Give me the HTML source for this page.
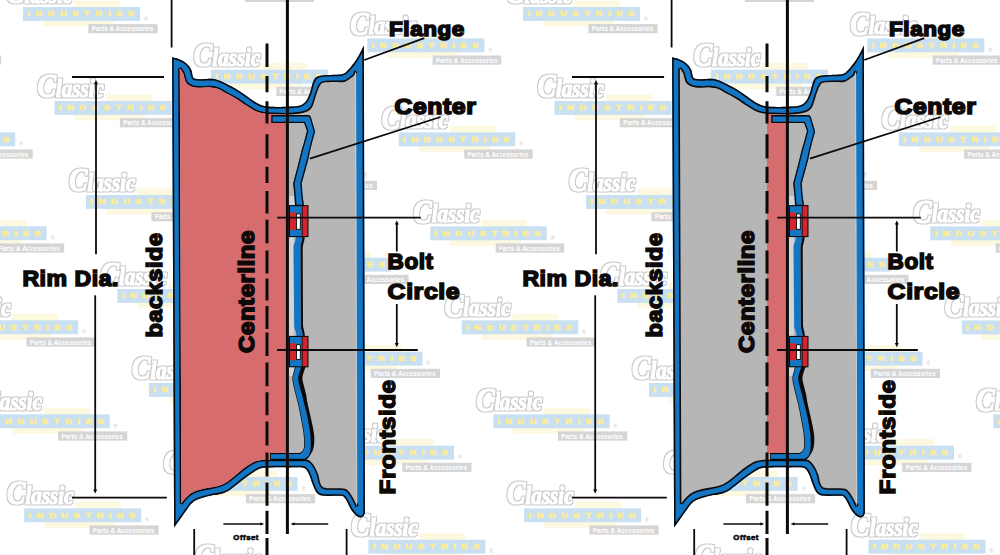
<!DOCTYPE html>
<html lang="en"><head><meta charset="utf-8"><title>Wheel Offset Diagram</title>
<style>html,body{margin:0;padding:0;background:#fff}body{width:1000px;height:555px;overflow:hidden}svg{display:block}text{font-family:"Liberation Sans",sans-serif}text.cl{font-family:"Liberation Serif",serif;font-style:italic}</style></head><body>
<svg width="1000" height="555" viewBox="0 0 1000 555">
<defs><clipPath id="cOut"><path d="M172.1 57.3C173.1 57.6 176.5 58.2 178.5 58.9C180.5 59.6 182.5 60.6 184.2 61.7C185.9 62.9 187.5 64.3 188.7 65.8C189.9 67.3 190.8 68.9 191.5 70.6C192.2 72.3 192.1 74.6 192.7 76C193.3 77.4 193.3 78.3 194.9 78.8C196.5 79.3 198.9 79.2 202 79.2C205.1 79.2 210.4 78.6 213.4 78.9C216.4 79.2 217.2 79.7 219.9 80.8C222.6 81.9 226.6 84 229.6 85.6C232.6 87.2 235.3 88.5 238.1 90.2C240.9 91.9 243.5 93.9 246.2 95.8C248.9 97.7 251.6 99.9 254.3 101.5C257 103.1 259.7 104.7 262.4 105.6C265.1 106.5 266.4 106.6 270.5 106.8C274.6 107 282 107 286.7 106.8C291.4 106.6 295.8 106.6 298.9 105.8C302 105 303.6 104 305.4 102C307.2 100 308.4 97 309.6 94C310.8 91 311.5 86.5 312.4 83.9C313.3 81.3 313.9 79.9 314.9 78.6C315.9 77.3 316.4 76.8 318.5 76.2C320.6 75.6 323.5 75.3 327.4 75C331.3 74.7 338.8 74.8 342 74.2C345.2 73.6 345.4 72.5 346.9 71.3C348.4 70.1 349.5 68.5 350.9 66.9C352.2 65.3 353.6 63.8 355 61.6C356.4 59.5 358.1 56.7 359.6 54C361.1 51.3 363.2 47 363.9 45.6L364.9 512.4C364.7 513 364.4 515.3 363.5 516.1C362.6 516.9 361.2 517.7 359.8 517.4C358.4 517.1 356.5 515.8 355 514.4C353.5 513 352.1 511.1 350.9 509.2C349.7 507.2 348.8 504.7 347.7 502.7C346.6 500.7 345.6 498.5 344.4 497.4C343.2 496.2 343.8 496.1 340.4 495.8C337 495.5 327.8 496.1 324.2 495.8C320.6 495.5 320 495.1 318.5 494.2C317 493.3 316.2 492.1 315.2 490.2C314.1 488.3 313.2 485.5 312.2 483C311.2 480.5 310.4 477.4 309.4 475.1C308.4 472.8 307.4 470.7 306.2 469.4C305 468.1 304.9 467.7 302.2 467.4C299.5 467.1 295.1 467.4 290 467.4C284.9 467.4 276.1 467.3 271.7 467.4C267.3 467.4 265.8 467.4 263.6 467.7C261.5 468 260.8 468 258.8 469C256.8 470 254.1 471.8 251.5 473.5C248.9 475.2 246.1 477.2 243.4 479.2C240.7 481.2 238 483.6 235.3 485.7C232.6 487.8 229.6 490.2 227.2 491.6C224.8 493 223 493.3 220.7 493.9C218.4 494.5 216.1 494.6 213.4 495.1C210.7 495.7 207.3 496.4 204.5 497.2C201.7 498 198.6 498.9 196.4 500C194.2 501.1 193.1 501.9 191.5 503.6C189.9 505.3 188.5 507.5 186.6 510.1C184.7 512.7 182.3 516.1 180.2 519C178.1 521.9 175.1 526.1 174.1 527.5L172.1 57.3Z"/></clipPath><clipPath id="cCav"><path d="M179.8 68.2C180.3 69 182.2 71.3 183 73.1C183.8 74.8 184 77 184.6 78.7C185.2 80.4 185.4 81.9 186.6 83.2C187.8 84.5 189.2 85.7 191.5 86.4C193.8 87.2 197.3 87.5 200.4 87.7C203.5 87.9 207.1 87.2 210.1 87.4C213.1 87.6 215.2 87.8 218.2 88.9C221.2 90.1 224.7 92.5 228 94.3C231.3 96.1 235.1 98 238.1 99.9C241.1 101.8 243.5 103.8 246.2 105.6C248.9 107.3 251.6 109.1 254.3 110.4C257 111.7 259.7 112.7 262.4 113.3C265.1 113.9 266.4 113.9 270.5 114.1C274.6 114.3 282 114.6 286.7 114.5C291.4 114.4 295.4 114.2 298.9 113.7C302.4 113.2 305.6 112.4 307.8 111.2C310.1 110 311.1 108.8 312.4 106.5C313.6 104.2 314.4 100.5 315.3 97.7C316.2 94.9 317.2 91.8 318.1 89.6C319 87.4 319.6 85.8 320.5 84.7C321.4 83.6 321.2 83.1 323.4 82.7C325.6 82.3 330.4 82.2 333.9 82.1C337.4 82 341.7 82.5 344.4 81.9C347.1 81.3 348.5 79.7 350.1 78.6C351.7 77.5 353.2 76.5 354.2 75.2C355.1 73.9 355.5 71.7 355.8 71L357 506.7C356.8 506.2 356.6 505.1 355.8 503.5C355.1 501.9 353.7 499 352.5 497C351.3 495 350 492.7 348.5 491.3C347 489.9 347.2 489 343.6 488.5C340 488 330.5 488.4 327 488.2C323.5 488 323.9 488 322.8 487.1C321.7 486.2 320.9 485 320.2 483C319.5 481 319.2 477.7 318.4 475.1C317.5 472.5 316.3 469.5 315.1 467.4C313.9 465.2 312.5 463.5 311.1 462.2C309.7 460.9 310 460.1 306.5 459.7C303 459.3 296.1 459.7 290 459.7C283.9 459.7 274.8 459.7 270.1 459.7C265.4 459.7 264.4 459.6 262 459.9C259.6 460.2 257.9 460.3 255.5 461.3C253.1 462.3 250.1 464 247.4 465.8C244.7 467.6 242.3 469.5 239.3 471.9C236.3 474.3 232.4 477.9 229.6 480C226.8 482.1 225.2 483.2 222.5 484.4C219.8 485.6 216.4 486.3 213.4 487C210.4 487.7 207.5 487.9 204.5 488.6C201.5 489.3 198.2 490.1 195.6 491.1C193 492.1 191 493.3 189.1 494.7C187.2 496.1 185.5 498.1 184.2 499.6C182.9 501.1 181.9 502.9 181.4 503.6L179.8 68.2Z"/></clipPath><clipPath id="cD0"><path d="M271.3 115.1 L308.3 115.1 Q310.2 115.2 310.9 117.2 L315.1 131.5 L312.2 142 L310.2 150 L308.2 159.7 L301.7 183.2 L302.5 195 L304 206 L295.3 206 L294.4 195 L293.2 183.2 L297.7 166.2 L301.7 150 L304.1 142 L307 130.7 L304.1 123 L271.3 123 Z"/></clipPath><filter id="wo" x="-10%" y="-30%" width="120%" height="160%"><feMorphology in="SourceAlpha" operator="dilate" radius="1.4" result="d"/><feGaussianBlur in="d" stdDeviation="0.35" result="db"/><feFlood flood-color="#cacaca"/><feComposite in2="db" operator="in" result="o"/><feMerge><feMergeNode in="o"/><feMergeNode in="SourceGraphic"/></feMerge></filter></defs>
<rect width="1000" height="555" fill="#fff"/>
<svg x="0" y="0" width="500" height="555" viewBox="0 0 500 555" overflow="hidden">
<g transform="translate(160.5 -52.8)"><rect x="70" y="22" width="46" height="8" fill="#fdf8e0"/><rect x="39" y="41" width="71" height="7" fill="#fdf8e0"/><rect x="18.9" y="28.5" width="117.1" height="13.9" fill="#c9e0f2"/><text class="cl" x="1.8" y="24.6" font-weight="bold" font-size="33.5" textLength="66.5" lengthAdjust="spacingAndGlyphs" fill="#fff" stroke="#fff" stroke-width="1.2" stroke-linejoin="round" filter="url(#wo)">C<tspan font-size="25.5">lassic</tspan></text><text x="23.2" y="37.9" font-size="6.3" font-weight="bold" letter-spacing="4" textLength="112.5" lengthAdjust="spacingAndGlyphs" fill="#fbec98" stroke="#fbec98" stroke-width="0.7">INDUSTRIES</text><text x="139.8" y="42.3" font-size="5.5" fill="#cfcfcf">®</text><rect x="84.3" y="45.6" width="69.2" height="9.2" fill="#d5d5d5"/><text x="87.6" y="52.9" font-size="7.2" font-weight="bold" textLength="61.6" lengthAdjust="spacingAndGlyphs" fill="#fff">Parts &amp; Accessories</text></g>
<g transform="translate(4.1 -21.5)"><rect x="70" y="22" width="46" height="8" fill="#fdf8e0"/><rect x="39" y="41" width="71" height="7" fill="#fdf8e0"/><rect x="18.9" y="28.5" width="117.1" height="13.9" fill="#c9e0f2"/><text class="cl" x="1.8" y="24.6" font-weight="bold" font-size="33.5" textLength="66.5" lengthAdjust="spacingAndGlyphs" fill="#fff" stroke="#fff" stroke-width="1.2" stroke-linejoin="round" filter="url(#wo)">C<tspan font-size="25.5">lassic</tspan></text><text x="23.2" y="37.9" font-size="6.3" font-weight="bold" letter-spacing="4" textLength="112.5" lengthAdjust="spacingAndGlyphs" fill="#fbec98" stroke="#fbec98" stroke-width="0.7">INDUSTRIES</text><text x="139.8" y="42.3" font-size="5.5" fill="#cfcfcf">®</text><rect x="84.3" y="45.6" width="69.2" height="9.2" fill="#d5d5d5"/><text x="87.6" y="52.9" font-size="7.2" font-weight="bold" textLength="61.6" lengthAdjust="spacingAndGlyphs" fill="#fff">Parts &amp; Accessories</text></g>
<g transform="translate(-152.3 9.8)"><rect x="70" y="22" width="46" height="8" fill="#fdf8e0"/><rect x="39" y="41" width="71" height="7" fill="#fdf8e0"/><rect x="18.9" y="28.5" width="117.1" height="13.9" fill="#c9e0f2"/><text class="cl" x="1.8" y="24.6" font-weight="bold" font-size="33.5" textLength="66.5" lengthAdjust="spacingAndGlyphs" fill="#fff" stroke="#fff" stroke-width="1.2" stroke-linejoin="round" filter="url(#wo)">C<tspan font-size="25.5">lassic</tspan></text><text x="23.2" y="37.9" font-size="6.3" font-weight="bold" letter-spacing="4" textLength="112.5" lengthAdjust="spacingAndGlyphs" fill="#fbec98" stroke="#fbec98" stroke-width="0.7">INDUSTRIES</text><text x="139.8" y="42.3" font-size="5.5" fill="#cfcfcf">®</text><rect x="84.3" y="45.6" width="69.2" height="9.2" fill="#d5d5d5"/><text x="87.6" y="52.9" font-size="7.2" font-weight="bold" textLength="61.6" lengthAdjust="spacingAndGlyphs" fill="#fff">Parts &amp; Accessories</text></g>
<g transform="translate(348.4 9.9)"><rect x="70" y="22" width="46" height="8" fill="#fdf8e0"/><rect x="39" y="41" width="71" height="7" fill="#fdf8e0"/><rect x="18.9" y="28.5" width="117.1" height="13.9" fill="#c9e0f2"/><text class="cl" x="1.8" y="24.6" font-weight="bold" font-size="33.5" textLength="66.5" lengthAdjust="spacingAndGlyphs" fill="#fff" stroke="#fff" stroke-width="1.2" stroke-linejoin="round" filter="url(#wo)">C<tspan font-size="25.5">lassic</tspan></text><text x="23.2" y="37.9" font-size="6.3" font-weight="bold" letter-spacing="4" textLength="112.5" lengthAdjust="spacingAndGlyphs" fill="#fbec98" stroke="#fbec98" stroke-width="0.7">INDUSTRIES</text><text x="139.8" y="42.3" font-size="5.5" fill="#cfcfcf">®</text><rect x="84.3" y="45.6" width="69.2" height="9.2" fill="#d5d5d5"/><text x="87.6" y="52.9" font-size="7.2" font-weight="bold" textLength="61.6" lengthAdjust="spacingAndGlyphs" fill="#fff">Parts &amp; Accessories</text></g>
<g transform="translate(192 41.2)"><rect x="70" y="22" width="46" height="8" fill="#fdf8e0"/><rect x="39" y="41" width="71" height="7" fill="#fdf8e0"/><rect x="18.9" y="28.5" width="117.1" height="13.9" fill="#c9e0f2"/><text class="cl" x="1.8" y="24.6" font-weight="bold" font-size="33.5" textLength="66.5" lengthAdjust="spacingAndGlyphs" fill="#fff" stroke="#fff" stroke-width="1.2" stroke-linejoin="round" filter="url(#wo)">C<tspan font-size="25.5">lassic</tspan></text><text x="23.2" y="37.9" font-size="6.3" font-weight="bold" letter-spacing="4" textLength="112.5" lengthAdjust="spacingAndGlyphs" fill="#fbec98" stroke="#fbec98" stroke-width="0.7">INDUSTRIES</text><text x="139.8" y="42.3" font-size="5.5" fill="#cfcfcf">®</text><rect x="84.3" y="45.6" width="69.2" height="9.2" fill="#d5d5d5"/><text x="87.6" y="52.9" font-size="7.2" font-weight="bold" textLength="61.6" lengthAdjust="spacingAndGlyphs" fill="#fff">Parts &amp; Accessories</text></g>
<g transform="translate(35.6 72.5)"><rect x="70" y="22" width="46" height="8" fill="#fdf8e0"/><rect x="39" y="41" width="71" height="7" fill="#fdf8e0"/><rect x="18.9" y="28.5" width="117.1" height="13.9" fill="#c9e0f2"/><text class="cl" x="1.8" y="24.6" font-weight="bold" font-size="33.5" textLength="66.5" lengthAdjust="spacingAndGlyphs" fill="#fff" stroke="#fff" stroke-width="1.2" stroke-linejoin="round" filter="url(#wo)">C<tspan font-size="25.5">lassic</tspan></text><text x="23.2" y="37.9" font-size="6.3" font-weight="bold" letter-spacing="4" textLength="112.5" lengthAdjust="spacingAndGlyphs" fill="#fbec98" stroke="#fbec98" stroke-width="0.7">INDUSTRIES</text><text x="139.8" y="42.3" font-size="5.5" fill="#cfcfcf">®</text><rect x="84.3" y="45.6" width="69.2" height="9.2" fill="#d5d5d5"/><text x="87.6" y="52.9" font-size="7.2" font-weight="bold" textLength="61.6" lengthAdjust="spacingAndGlyphs" fill="#fff">Parts &amp; Accessories</text></g>
<g transform="translate(-120.8 103.8)"><rect x="70" y="22" width="46" height="8" fill="#fdf8e0"/><rect x="39" y="41" width="71" height="7" fill="#fdf8e0"/><rect x="18.9" y="28.5" width="117.1" height="13.9" fill="#c9e0f2"/><text class="cl" x="1.8" y="24.6" font-weight="bold" font-size="33.5" textLength="66.5" lengthAdjust="spacingAndGlyphs" fill="#fff" stroke="#fff" stroke-width="1.2" stroke-linejoin="round" filter="url(#wo)">C<tspan font-size="25.5">lassic</tspan></text><text x="23.2" y="37.9" font-size="6.3" font-weight="bold" letter-spacing="4" textLength="112.5" lengthAdjust="spacingAndGlyphs" fill="#fbec98" stroke="#fbec98" stroke-width="0.7">INDUSTRIES</text><text x="139.8" y="42.3" font-size="5.5" fill="#cfcfcf">®</text><rect x="84.3" y="45.6" width="69.2" height="9.2" fill="#d5d5d5"/><text x="87.6" y="52.9" font-size="7.2" font-weight="bold" textLength="61.6" lengthAdjust="spacingAndGlyphs" fill="#fff">Parts &amp; Accessories</text></g>
<g transform="translate(379.9 103.9)"><rect x="70" y="22" width="46" height="8" fill="#fdf8e0"/><rect x="39" y="41" width="71" height="7" fill="#fdf8e0"/><rect x="18.9" y="28.5" width="117.1" height="13.9" fill="#c9e0f2"/><text class="cl" x="1.8" y="24.6" font-weight="bold" font-size="33.5" textLength="66.5" lengthAdjust="spacingAndGlyphs" fill="#fff" stroke="#fff" stroke-width="1.2" stroke-linejoin="round" filter="url(#wo)">C<tspan font-size="25.5">lassic</tspan></text><text x="23.2" y="37.9" font-size="6.3" font-weight="bold" letter-spacing="4" textLength="112.5" lengthAdjust="spacingAndGlyphs" fill="#fbec98" stroke="#fbec98" stroke-width="0.7">INDUSTRIES</text><text x="139.8" y="42.3" font-size="5.5" fill="#cfcfcf">®</text><rect x="84.3" y="45.6" width="69.2" height="9.2" fill="#d5d5d5"/><text x="87.6" y="52.9" font-size="7.2" font-weight="bold" textLength="61.6" lengthAdjust="spacingAndGlyphs" fill="#fff">Parts &amp; Accessories</text></g>
<g transform="translate(223.5 135.2)"><rect x="70" y="22" width="46" height="8" fill="#fdf8e0"/><rect x="39" y="41" width="71" height="7" fill="#fdf8e0"/><rect x="18.9" y="28.5" width="117.1" height="13.9" fill="#c9e0f2"/><text class="cl" x="1.8" y="24.6" font-weight="bold" font-size="33.5" textLength="66.5" lengthAdjust="spacingAndGlyphs" fill="#fff" stroke="#fff" stroke-width="1.2" stroke-linejoin="round" filter="url(#wo)">C<tspan font-size="25.5">lassic</tspan></text><text x="23.2" y="37.9" font-size="6.3" font-weight="bold" letter-spacing="4" textLength="112.5" lengthAdjust="spacingAndGlyphs" fill="#fbec98" stroke="#fbec98" stroke-width="0.7">INDUSTRIES</text><text x="139.8" y="42.3" font-size="5.5" fill="#cfcfcf">®</text><rect x="84.3" y="45.6" width="69.2" height="9.2" fill="#d5d5d5"/><text x="87.6" y="52.9" font-size="7.2" font-weight="bold" textLength="61.6" lengthAdjust="spacingAndGlyphs" fill="#fff">Parts &amp; Accessories</text></g>
<g transform="translate(67.1 166.5)"><rect x="70" y="22" width="46" height="8" fill="#fdf8e0"/><rect x="39" y="41" width="71" height="7" fill="#fdf8e0"/><rect x="18.9" y="28.5" width="117.1" height="13.9" fill="#c9e0f2"/><text class="cl" x="1.8" y="24.6" font-weight="bold" font-size="33.5" textLength="66.5" lengthAdjust="spacingAndGlyphs" fill="#fff" stroke="#fff" stroke-width="1.2" stroke-linejoin="round" filter="url(#wo)">C<tspan font-size="25.5">lassic</tspan></text><text x="23.2" y="37.9" font-size="6.3" font-weight="bold" letter-spacing="4" textLength="112.5" lengthAdjust="spacingAndGlyphs" fill="#fbec98" stroke="#fbec98" stroke-width="0.7">INDUSTRIES</text><text x="139.8" y="42.3" font-size="5.5" fill="#cfcfcf">®</text><rect x="84.3" y="45.6" width="69.2" height="9.2" fill="#d5d5d5"/><text x="87.6" y="52.9" font-size="7.2" font-weight="bold" textLength="61.6" lengthAdjust="spacingAndGlyphs" fill="#fff">Parts &amp; Accessories</text></g>
<g transform="translate(-89.3 197.8)"><rect x="70" y="22" width="46" height="8" fill="#fdf8e0"/><rect x="39" y="41" width="71" height="7" fill="#fdf8e0"/><rect x="18.9" y="28.5" width="117.1" height="13.9" fill="#c9e0f2"/><text class="cl" x="1.8" y="24.6" font-weight="bold" font-size="33.5" textLength="66.5" lengthAdjust="spacingAndGlyphs" fill="#fff" stroke="#fff" stroke-width="1.2" stroke-linejoin="round" filter="url(#wo)">C<tspan font-size="25.5">lassic</tspan></text><text x="23.2" y="37.9" font-size="6.3" font-weight="bold" letter-spacing="4" textLength="112.5" lengthAdjust="spacingAndGlyphs" fill="#fbec98" stroke="#fbec98" stroke-width="0.7">INDUSTRIES</text><text x="139.8" y="42.3" font-size="5.5" fill="#cfcfcf">®</text><rect x="84.3" y="45.6" width="69.2" height="9.2" fill="#d5d5d5"/><text x="87.6" y="52.9" font-size="7.2" font-weight="bold" textLength="61.6" lengthAdjust="spacingAndGlyphs" fill="#fff">Parts &amp; Accessories</text></g>
<g transform="translate(411.4 197.9)"><rect x="70" y="22" width="46" height="8" fill="#fdf8e0"/><rect x="39" y="41" width="71" height="7" fill="#fdf8e0"/><rect x="18.9" y="28.5" width="117.1" height="13.9" fill="#c9e0f2"/><text class="cl" x="1.8" y="24.6" font-weight="bold" font-size="33.5" textLength="66.5" lengthAdjust="spacingAndGlyphs" fill="#fff" stroke="#fff" stroke-width="1.2" stroke-linejoin="round" filter="url(#wo)">C<tspan font-size="25.5">lassic</tspan></text><text x="23.2" y="37.9" font-size="6.3" font-weight="bold" letter-spacing="4" textLength="112.5" lengthAdjust="spacingAndGlyphs" fill="#fbec98" stroke="#fbec98" stroke-width="0.7">INDUSTRIES</text><text x="139.8" y="42.3" font-size="5.5" fill="#cfcfcf">®</text><rect x="84.3" y="45.6" width="69.2" height="9.2" fill="#d5d5d5"/><text x="87.6" y="52.9" font-size="7.2" font-weight="bold" textLength="61.6" lengthAdjust="spacingAndGlyphs" fill="#fff">Parts &amp; Accessories</text></g>
<g transform="translate(255 229.2)"><rect x="70" y="22" width="46" height="8" fill="#fdf8e0"/><rect x="39" y="41" width="71" height="7" fill="#fdf8e0"/><rect x="18.9" y="28.5" width="117.1" height="13.9" fill="#c9e0f2"/><text class="cl" x="1.8" y="24.6" font-weight="bold" font-size="33.5" textLength="66.5" lengthAdjust="spacingAndGlyphs" fill="#fff" stroke="#fff" stroke-width="1.2" stroke-linejoin="round" filter="url(#wo)">C<tspan font-size="25.5">lassic</tspan></text><text x="23.2" y="37.9" font-size="6.3" font-weight="bold" letter-spacing="4" textLength="112.5" lengthAdjust="spacingAndGlyphs" fill="#fbec98" stroke="#fbec98" stroke-width="0.7">INDUSTRIES</text><text x="139.8" y="42.3" font-size="5.5" fill="#cfcfcf">®</text><rect x="84.3" y="45.6" width="69.2" height="9.2" fill="#d5d5d5"/><text x="87.6" y="52.9" font-size="7.2" font-weight="bold" textLength="61.6" lengthAdjust="spacingAndGlyphs" fill="#fff">Parts &amp; Accessories</text></g>
<g transform="translate(98.6 260.5)"><rect x="70" y="22" width="46" height="8" fill="#fdf8e0"/><rect x="39" y="41" width="71" height="7" fill="#fdf8e0"/><rect x="18.9" y="28.5" width="117.1" height="13.9" fill="#c9e0f2"/><text class="cl" x="1.8" y="24.6" font-weight="bold" font-size="33.5" textLength="66.5" lengthAdjust="spacingAndGlyphs" fill="#fff" stroke="#fff" stroke-width="1.2" stroke-linejoin="round" filter="url(#wo)">C<tspan font-size="25.5">lassic</tspan></text><text x="23.2" y="37.9" font-size="6.3" font-weight="bold" letter-spacing="4" textLength="112.5" lengthAdjust="spacingAndGlyphs" fill="#fbec98" stroke="#fbec98" stroke-width="0.7">INDUSTRIES</text><text x="139.8" y="42.3" font-size="5.5" fill="#cfcfcf">®</text><rect x="84.3" y="45.6" width="69.2" height="9.2" fill="#d5d5d5"/><text x="87.6" y="52.9" font-size="7.2" font-weight="bold" textLength="61.6" lengthAdjust="spacingAndGlyphs" fill="#fff">Parts &amp; Accessories</text></g>
<g transform="translate(-57.8 291.8)"><rect x="70" y="22" width="46" height="8" fill="#fdf8e0"/><rect x="39" y="41" width="71" height="7" fill="#fdf8e0"/><rect x="18.9" y="28.5" width="117.1" height="13.9" fill="#c9e0f2"/><text class="cl" x="1.8" y="24.6" font-weight="bold" font-size="33.5" textLength="66.5" lengthAdjust="spacingAndGlyphs" fill="#fff" stroke="#fff" stroke-width="1.2" stroke-linejoin="round" filter="url(#wo)">C<tspan font-size="25.5">lassic</tspan></text><text x="23.2" y="37.9" font-size="6.3" font-weight="bold" letter-spacing="4" textLength="112.5" lengthAdjust="spacingAndGlyphs" fill="#fbec98" stroke="#fbec98" stroke-width="0.7">INDUSTRIES</text><text x="139.8" y="42.3" font-size="5.5" fill="#cfcfcf">®</text><rect x="84.3" y="45.6" width="69.2" height="9.2" fill="#d5d5d5"/><text x="87.6" y="52.9" font-size="7.2" font-weight="bold" textLength="61.6" lengthAdjust="spacingAndGlyphs" fill="#fff">Parts &amp; Accessories</text></g>
<g transform="translate(442.9 291.9)"><rect x="70" y="22" width="46" height="8" fill="#fdf8e0"/><rect x="39" y="41" width="71" height="7" fill="#fdf8e0"/><rect x="18.9" y="28.5" width="117.1" height="13.9" fill="#c9e0f2"/><text class="cl" x="1.8" y="24.6" font-weight="bold" font-size="33.5" textLength="66.5" lengthAdjust="spacingAndGlyphs" fill="#fff" stroke="#fff" stroke-width="1.2" stroke-linejoin="round" filter="url(#wo)">C<tspan font-size="25.5">lassic</tspan></text><text x="23.2" y="37.9" font-size="6.3" font-weight="bold" letter-spacing="4" textLength="112.5" lengthAdjust="spacingAndGlyphs" fill="#fbec98" stroke="#fbec98" stroke-width="0.7">INDUSTRIES</text><text x="139.8" y="42.3" font-size="5.5" fill="#cfcfcf">®</text><rect x="84.3" y="45.6" width="69.2" height="9.2" fill="#d5d5d5"/><text x="87.6" y="52.9" font-size="7.2" font-weight="bold" textLength="61.6" lengthAdjust="spacingAndGlyphs" fill="#fff">Parts &amp; Accessories</text></g>
<g transform="translate(286.5 323.2)"><rect x="70" y="22" width="46" height="8" fill="#fdf8e0"/><rect x="39" y="41" width="71" height="7" fill="#fdf8e0"/><rect x="18.9" y="28.5" width="117.1" height="13.9" fill="#c9e0f2"/><text class="cl" x="1.8" y="24.6" font-weight="bold" font-size="33.5" textLength="66.5" lengthAdjust="spacingAndGlyphs" fill="#fff" stroke="#fff" stroke-width="1.2" stroke-linejoin="round" filter="url(#wo)">C<tspan font-size="25.5">lassic</tspan></text><text x="23.2" y="37.9" font-size="6.3" font-weight="bold" letter-spacing="4" textLength="112.5" lengthAdjust="spacingAndGlyphs" fill="#fbec98" stroke="#fbec98" stroke-width="0.7">INDUSTRIES</text><text x="139.8" y="42.3" font-size="5.5" fill="#cfcfcf">®</text><rect x="84.3" y="45.6" width="69.2" height="9.2" fill="#d5d5d5"/><text x="87.6" y="52.9" font-size="7.2" font-weight="bold" textLength="61.6" lengthAdjust="spacingAndGlyphs" fill="#fff">Parts &amp; Accessories</text></g>
<g transform="translate(130.1 354.5)"><rect x="70" y="22" width="46" height="8" fill="#fdf8e0"/><rect x="39" y="41" width="71" height="7" fill="#fdf8e0"/><rect x="18.9" y="28.5" width="117.1" height="13.9" fill="#c9e0f2"/><text class="cl" x="1.8" y="24.6" font-weight="bold" font-size="33.5" textLength="66.5" lengthAdjust="spacingAndGlyphs" fill="#fff" stroke="#fff" stroke-width="1.2" stroke-linejoin="round" filter="url(#wo)">C<tspan font-size="25.5">lassic</tspan></text><text x="23.2" y="37.9" font-size="6.3" font-weight="bold" letter-spacing="4" textLength="112.5" lengthAdjust="spacingAndGlyphs" fill="#fbec98" stroke="#fbec98" stroke-width="0.7">INDUSTRIES</text><text x="139.8" y="42.3" font-size="5.5" fill="#cfcfcf">®</text><rect x="84.3" y="45.6" width="69.2" height="9.2" fill="#d5d5d5"/><text x="87.6" y="52.9" font-size="7.2" font-weight="bold" textLength="61.6" lengthAdjust="spacingAndGlyphs" fill="#fff">Parts &amp; Accessories</text></g>
<g transform="translate(-26.3 385.8)"><rect x="70" y="22" width="46" height="8" fill="#fdf8e0"/><rect x="39" y="41" width="71" height="7" fill="#fdf8e0"/><rect x="18.9" y="28.5" width="117.1" height="13.9" fill="#c9e0f2"/><text class="cl" x="1.8" y="24.6" font-weight="bold" font-size="33.5" textLength="66.5" lengthAdjust="spacingAndGlyphs" fill="#fff" stroke="#fff" stroke-width="1.2" stroke-linejoin="round" filter="url(#wo)">C<tspan font-size="25.5">lassic</tspan></text><text x="23.2" y="37.9" font-size="6.3" font-weight="bold" letter-spacing="4" textLength="112.5" lengthAdjust="spacingAndGlyphs" fill="#fbec98" stroke="#fbec98" stroke-width="0.7">INDUSTRIES</text><text x="139.8" y="42.3" font-size="5.5" fill="#cfcfcf">®</text><rect x="84.3" y="45.6" width="69.2" height="9.2" fill="#d5d5d5"/><text x="87.6" y="52.9" font-size="7.2" font-weight="bold" textLength="61.6" lengthAdjust="spacingAndGlyphs" fill="#fff">Parts &amp; Accessories</text></g>
<g transform="translate(474.4 385.9)"><rect x="70" y="22" width="46" height="8" fill="#fdf8e0"/><rect x="39" y="41" width="71" height="7" fill="#fdf8e0"/><rect x="18.9" y="28.5" width="117.1" height="13.9" fill="#c9e0f2"/><text class="cl" x="1.8" y="24.6" font-weight="bold" font-size="33.5" textLength="66.5" lengthAdjust="spacingAndGlyphs" fill="#fff" stroke="#fff" stroke-width="1.2" stroke-linejoin="round" filter="url(#wo)">C<tspan font-size="25.5">lassic</tspan></text><text x="23.2" y="37.9" font-size="6.3" font-weight="bold" letter-spacing="4" textLength="112.5" lengthAdjust="spacingAndGlyphs" fill="#fbec98" stroke="#fbec98" stroke-width="0.7">INDUSTRIES</text><text x="139.8" y="42.3" font-size="5.5" fill="#cfcfcf">®</text><rect x="84.3" y="45.6" width="69.2" height="9.2" fill="#d5d5d5"/><text x="87.6" y="52.9" font-size="7.2" font-weight="bold" textLength="61.6" lengthAdjust="spacingAndGlyphs" fill="#fff">Parts &amp; Accessories</text></g>
<g transform="translate(318 417.2)"><rect x="70" y="22" width="46" height="8" fill="#fdf8e0"/><rect x="39" y="41" width="71" height="7" fill="#fdf8e0"/><rect x="18.9" y="28.5" width="117.1" height="13.9" fill="#c9e0f2"/><text class="cl" x="1.8" y="24.6" font-weight="bold" font-size="33.5" textLength="66.5" lengthAdjust="spacingAndGlyphs" fill="#fff" stroke="#fff" stroke-width="1.2" stroke-linejoin="round" filter="url(#wo)">C<tspan font-size="25.5">lassic</tspan></text><text x="23.2" y="37.9" font-size="6.3" font-weight="bold" letter-spacing="4" textLength="112.5" lengthAdjust="spacingAndGlyphs" fill="#fbec98" stroke="#fbec98" stroke-width="0.7">INDUSTRIES</text><text x="139.8" y="42.3" font-size="5.5" fill="#cfcfcf">®</text><rect x="84.3" y="45.6" width="69.2" height="9.2" fill="#d5d5d5"/><text x="87.6" y="52.9" font-size="7.2" font-weight="bold" textLength="61.6" lengthAdjust="spacingAndGlyphs" fill="#fff">Parts &amp; Accessories</text></g>
<g transform="translate(161.6 448.5)"><rect x="70" y="22" width="46" height="8" fill="#fdf8e0"/><rect x="39" y="41" width="71" height="7" fill="#fdf8e0"/><rect x="18.9" y="28.5" width="117.1" height="13.9" fill="#c9e0f2"/><text class="cl" x="1.8" y="24.6" font-weight="bold" font-size="33.5" textLength="66.5" lengthAdjust="spacingAndGlyphs" fill="#fff" stroke="#fff" stroke-width="1.2" stroke-linejoin="round" filter="url(#wo)">C<tspan font-size="25.5">lassic</tspan></text><text x="23.2" y="37.9" font-size="6.3" font-weight="bold" letter-spacing="4" textLength="112.5" lengthAdjust="spacingAndGlyphs" fill="#fbec98" stroke="#fbec98" stroke-width="0.7">INDUSTRIES</text><text x="139.8" y="42.3" font-size="5.5" fill="#cfcfcf">®</text><rect x="84.3" y="45.6" width="69.2" height="9.2" fill="#d5d5d5"/><text x="87.6" y="52.9" font-size="7.2" font-weight="bold" textLength="61.6" lengthAdjust="spacingAndGlyphs" fill="#fff">Parts &amp; Accessories</text></g>
<g transform="translate(5.2 479.8)"><rect x="70" y="22" width="46" height="8" fill="#fdf8e0"/><rect x="39" y="41" width="71" height="7" fill="#fdf8e0"/><rect x="18.9" y="28.5" width="117.1" height="13.9" fill="#c9e0f2"/><text class="cl" x="1.8" y="24.6" font-weight="bold" font-size="33.5" textLength="66.5" lengthAdjust="spacingAndGlyphs" fill="#fff" stroke="#fff" stroke-width="1.2" stroke-linejoin="round" filter="url(#wo)">C<tspan font-size="25.5">lassic</tspan></text><text x="23.2" y="37.9" font-size="6.3" font-weight="bold" letter-spacing="4" textLength="112.5" lengthAdjust="spacingAndGlyphs" fill="#fbec98" stroke="#fbec98" stroke-width="0.7">INDUSTRIES</text><text x="139.8" y="42.3" font-size="5.5" fill="#cfcfcf">®</text><rect x="84.3" y="45.6" width="69.2" height="9.2" fill="#d5d5d5"/><text x="87.6" y="52.9" font-size="7.2" font-weight="bold" textLength="61.6" lengthAdjust="spacingAndGlyphs" fill="#fff">Parts &amp; Accessories</text></g>
<g transform="translate(-151.2 511.1)"><rect x="70" y="22" width="46" height="8" fill="#fdf8e0"/><rect x="39" y="41" width="71" height="7" fill="#fdf8e0"/><rect x="18.9" y="28.5" width="117.1" height="13.9" fill="#c9e0f2"/><text class="cl" x="1.8" y="24.6" font-weight="bold" font-size="33.5" textLength="66.5" lengthAdjust="spacingAndGlyphs" fill="#fff" stroke="#fff" stroke-width="1.2" stroke-linejoin="round" filter="url(#wo)">C<tspan font-size="25.5">lassic</tspan></text><text x="23.2" y="37.9" font-size="6.3" font-weight="bold" letter-spacing="4" textLength="112.5" lengthAdjust="spacingAndGlyphs" fill="#fbec98" stroke="#fbec98" stroke-width="0.7">INDUSTRIES</text><text x="139.8" y="42.3" font-size="5.5" fill="#cfcfcf">®</text><rect x="84.3" y="45.6" width="69.2" height="9.2" fill="#d5d5d5"/><text x="87.6" y="52.9" font-size="7.2" font-weight="bold" textLength="61.6" lengthAdjust="spacingAndGlyphs" fill="#fff">Parts &amp; Accessories</text></g>
<g transform="translate(349.5 511.2)"><rect x="70" y="22" width="46" height="8" fill="#fdf8e0"/><rect x="39" y="41" width="71" height="7" fill="#fdf8e0"/><rect x="18.9" y="28.5" width="117.1" height="13.9" fill="#c9e0f2"/><text class="cl" x="1.8" y="24.6" font-weight="bold" font-size="33.5" textLength="66.5" lengthAdjust="spacingAndGlyphs" fill="#fff" stroke="#fff" stroke-width="1.2" stroke-linejoin="round" filter="url(#wo)">C<tspan font-size="25.5">lassic</tspan></text><text x="23.2" y="37.9" font-size="6.3" font-weight="bold" letter-spacing="4" textLength="112.5" lengthAdjust="spacingAndGlyphs" fill="#fbec98" stroke="#fbec98" stroke-width="0.7">INDUSTRIES</text><text x="139.8" y="42.3" font-size="5.5" fill="#cfcfcf">®</text><rect x="84.3" y="45.6" width="69.2" height="9.2" fill="#d5d5d5"/><text x="87.6" y="52.9" font-size="7.2" font-weight="bold" textLength="61.6" lengthAdjust="spacingAndGlyphs" fill="#fff">Parts &amp; Accessories</text></g>
<g transform="translate(193.1 542.5)"><rect x="70" y="22" width="46" height="8" fill="#fdf8e0"/><rect x="39" y="41" width="71" height="7" fill="#fdf8e0"/><rect x="18.9" y="28.5" width="117.1" height="13.9" fill="#c9e0f2"/><text class="cl" x="1.8" y="24.6" font-weight="bold" font-size="33.5" textLength="66.5" lengthAdjust="spacingAndGlyphs" fill="#fff" stroke="#fff" stroke-width="1.2" stroke-linejoin="round" filter="url(#wo)">C<tspan font-size="25.5">lassic</tspan></text><text x="23.2" y="37.9" font-size="6.3" font-weight="bold" letter-spacing="4" textLength="112.5" lengthAdjust="spacingAndGlyphs" fill="#fbec98" stroke="#fbec98" stroke-width="0.7">INDUSTRIES</text><text x="139.8" y="42.3" font-size="5.5" fill="#cfcfcf">®</text><rect x="84.3" y="45.6" width="69.2" height="9.2" fill="#d5d5d5"/><text x="87.6" y="52.9" font-size="7.2" font-weight="bold" textLength="61.6" lengthAdjust="spacingAndGlyphs" fill="#fff">Parts &amp; Accessories</text></g>
</svg>
<svg x="500" y="0" width="500" height="555" viewBox="0 0 500 555" overflow="hidden">
<g transform="translate(160.5 -52.8)"><rect x="70" y="22" width="46" height="8" fill="#fdf8e0"/><rect x="39" y="41" width="71" height="7" fill="#fdf8e0"/><rect x="18.9" y="28.5" width="117.1" height="13.9" fill="#c9e0f2"/><text class="cl" x="1.8" y="24.6" font-weight="bold" font-size="33.5" textLength="66.5" lengthAdjust="spacingAndGlyphs" fill="#fff" stroke="#fff" stroke-width="1.2" stroke-linejoin="round" filter="url(#wo)">C<tspan font-size="25.5">lassic</tspan></text><text x="23.2" y="37.9" font-size="6.3" font-weight="bold" letter-spacing="4" textLength="112.5" lengthAdjust="spacingAndGlyphs" fill="#fbec98" stroke="#fbec98" stroke-width="0.7">INDUSTRIES</text><text x="139.8" y="42.3" font-size="5.5" fill="#cfcfcf">®</text><rect x="84.3" y="45.6" width="69.2" height="9.2" fill="#d5d5d5"/><text x="87.6" y="52.9" font-size="7.2" font-weight="bold" textLength="61.6" lengthAdjust="spacingAndGlyphs" fill="#fff">Parts &amp; Accessories</text></g>
<g transform="translate(4.1 -21.5)"><rect x="70" y="22" width="46" height="8" fill="#fdf8e0"/><rect x="39" y="41" width="71" height="7" fill="#fdf8e0"/><rect x="18.9" y="28.5" width="117.1" height="13.9" fill="#c9e0f2"/><text class="cl" x="1.8" y="24.6" font-weight="bold" font-size="33.5" textLength="66.5" lengthAdjust="spacingAndGlyphs" fill="#fff" stroke="#fff" stroke-width="1.2" stroke-linejoin="round" filter="url(#wo)">C<tspan font-size="25.5">lassic</tspan></text><text x="23.2" y="37.9" font-size="6.3" font-weight="bold" letter-spacing="4" textLength="112.5" lengthAdjust="spacingAndGlyphs" fill="#fbec98" stroke="#fbec98" stroke-width="0.7">INDUSTRIES</text><text x="139.8" y="42.3" font-size="5.5" fill="#cfcfcf">®</text><rect x="84.3" y="45.6" width="69.2" height="9.2" fill="#d5d5d5"/><text x="87.6" y="52.9" font-size="7.2" font-weight="bold" textLength="61.6" lengthAdjust="spacingAndGlyphs" fill="#fff">Parts &amp; Accessories</text></g>
<g transform="translate(-152.3 9.8)"><rect x="70" y="22" width="46" height="8" fill="#fdf8e0"/><rect x="39" y="41" width="71" height="7" fill="#fdf8e0"/><rect x="18.9" y="28.5" width="117.1" height="13.9" fill="#c9e0f2"/><text class="cl" x="1.8" y="24.6" font-weight="bold" font-size="33.5" textLength="66.5" lengthAdjust="spacingAndGlyphs" fill="#fff" stroke="#fff" stroke-width="1.2" stroke-linejoin="round" filter="url(#wo)">C<tspan font-size="25.5">lassic</tspan></text><text x="23.2" y="37.9" font-size="6.3" font-weight="bold" letter-spacing="4" textLength="112.5" lengthAdjust="spacingAndGlyphs" fill="#fbec98" stroke="#fbec98" stroke-width="0.7">INDUSTRIES</text><text x="139.8" y="42.3" font-size="5.5" fill="#cfcfcf">®</text><rect x="84.3" y="45.6" width="69.2" height="9.2" fill="#d5d5d5"/><text x="87.6" y="52.9" font-size="7.2" font-weight="bold" textLength="61.6" lengthAdjust="spacingAndGlyphs" fill="#fff">Parts &amp; Accessories</text></g>
<g transform="translate(348.4 9.9)"><rect x="70" y="22" width="46" height="8" fill="#fdf8e0"/><rect x="39" y="41" width="71" height="7" fill="#fdf8e0"/><rect x="18.9" y="28.5" width="117.1" height="13.9" fill="#c9e0f2"/><text class="cl" x="1.8" y="24.6" font-weight="bold" font-size="33.5" textLength="66.5" lengthAdjust="spacingAndGlyphs" fill="#fff" stroke="#fff" stroke-width="1.2" stroke-linejoin="round" filter="url(#wo)">C<tspan font-size="25.5">lassic</tspan></text><text x="23.2" y="37.9" font-size="6.3" font-weight="bold" letter-spacing="4" textLength="112.5" lengthAdjust="spacingAndGlyphs" fill="#fbec98" stroke="#fbec98" stroke-width="0.7">INDUSTRIES</text><text x="139.8" y="42.3" font-size="5.5" fill="#cfcfcf">®</text><rect x="84.3" y="45.6" width="69.2" height="9.2" fill="#d5d5d5"/><text x="87.6" y="52.9" font-size="7.2" font-weight="bold" textLength="61.6" lengthAdjust="spacingAndGlyphs" fill="#fff">Parts &amp; Accessories</text></g>
<g transform="translate(192 41.2)"><rect x="70" y="22" width="46" height="8" fill="#fdf8e0"/><rect x="39" y="41" width="71" height="7" fill="#fdf8e0"/><rect x="18.9" y="28.5" width="117.1" height="13.9" fill="#c9e0f2"/><text class="cl" x="1.8" y="24.6" font-weight="bold" font-size="33.5" textLength="66.5" lengthAdjust="spacingAndGlyphs" fill="#fff" stroke="#fff" stroke-width="1.2" stroke-linejoin="round" filter="url(#wo)">C<tspan font-size="25.5">lassic</tspan></text><text x="23.2" y="37.9" font-size="6.3" font-weight="bold" letter-spacing="4" textLength="112.5" lengthAdjust="spacingAndGlyphs" fill="#fbec98" stroke="#fbec98" stroke-width="0.7">INDUSTRIES</text><text x="139.8" y="42.3" font-size="5.5" fill="#cfcfcf">®</text><rect x="84.3" y="45.6" width="69.2" height="9.2" fill="#d5d5d5"/><text x="87.6" y="52.9" font-size="7.2" font-weight="bold" textLength="61.6" lengthAdjust="spacingAndGlyphs" fill="#fff">Parts &amp; Accessories</text></g>
<g transform="translate(35.6 72.5)"><rect x="70" y="22" width="46" height="8" fill="#fdf8e0"/><rect x="39" y="41" width="71" height="7" fill="#fdf8e0"/><rect x="18.9" y="28.5" width="117.1" height="13.9" fill="#c9e0f2"/><text class="cl" x="1.8" y="24.6" font-weight="bold" font-size="33.5" textLength="66.5" lengthAdjust="spacingAndGlyphs" fill="#fff" stroke="#fff" stroke-width="1.2" stroke-linejoin="round" filter="url(#wo)">C<tspan font-size="25.5">lassic</tspan></text><text x="23.2" y="37.9" font-size="6.3" font-weight="bold" letter-spacing="4" textLength="112.5" lengthAdjust="spacingAndGlyphs" fill="#fbec98" stroke="#fbec98" stroke-width="0.7">INDUSTRIES</text><text x="139.8" y="42.3" font-size="5.5" fill="#cfcfcf">®</text><rect x="84.3" y="45.6" width="69.2" height="9.2" fill="#d5d5d5"/><text x="87.6" y="52.9" font-size="7.2" font-weight="bold" textLength="61.6" lengthAdjust="spacingAndGlyphs" fill="#fff">Parts &amp; Accessories</text></g>
<g transform="translate(-120.8 103.8)"><rect x="70" y="22" width="46" height="8" fill="#fdf8e0"/><rect x="39" y="41" width="71" height="7" fill="#fdf8e0"/><rect x="18.9" y="28.5" width="117.1" height="13.9" fill="#c9e0f2"/><text class="cl" x="1.8" y="24.6" font-weight="bold" font-size="33.5" textLength="66.5" lengthAdjust="spacingAndGlyphs" fill="#fff" stroke="#fff" stroke-width="1.2" stroke-linejoin="round" filter="url(#wo)">C<tspan font-size="25.5">lassic</tspan></text><text x="23.2" y="37.9" font-size="6.3" font-weight="bold" letter-spacing="4" textLength="112.5" lengthAdjust="spacingAndGlyphs" fill="#fbec98" stroke="#fbec98" stroke-width="0.7">INDUSTRIES</text><text x="139.8" y="42.3" font-size="5.5" fill="#cfcfcf">®</text><rect x="84.3" y="45.6" width="69.2" height="9.2" fill="#d5d5d5"/><text x="87.6" y="52.9" font-size="7.2" font-weight="bold" textLength="61.6" lengthAdjust="spacingAndGlyphs" fill="#fff">Parts &amp; Accessories</text></g>
<g transform="translate(379.9 103.9)"><rect x="70" y="22" width="46" height="8" fill="#fdf8e0"/><rect x="39" y="41" width="71" height="7" fill="#fdf8e0"/><rect x="18.9" y="28.5" width="117.1" height="13.9" fill="#c9e0f2"/><text class="cl" x="1.8" y="24.6" font-weight="bold" font-size="33.5" textLength="66.5" lengthAdjust="spacingAndGlyphs" fill="#fff" stroke="#fff" stroke-width="1.2" stroke-linejoin="round" filter="url(#wo)">C<tspan font-size="25.5">lassic</tspan></text><text x="23.2" y="37.9" font-size="6.3" font-weight="bold" letter-spacing="4" textLength="112.5" lengthAdjust="spacingAndGlyphs" fill="#fbec98" stroke="#fbec98" stroke-width="0.7">INDUSTRIES</text><text x="139.8" y="42.3" font-size="5.5" fill="#cfcfcf">®</text><rect x="84.3" y="45.6" width="69.2" height="9.2" fill="#d5d5d5"/><text x="87.6" y="52.9" font-size="7.2" font-weight="bold" textLength="61.6" lengthAdjust="spacingAndGlyphs" fill="#fff">Parts &amp; Accessories</text></g>
<g transform="translate(223.5 135.2)"><rect x="70" y="22" width="46" height="8" fill="#fdf8e0"/><rect x="39" y="41" width="71" height="7" fill="#fdf8e0"/><rect x="18.9" y="28.5" width="117.1" height="13.9" fill="#c9e0f2"/><text class="cl" x="1.8" y="24.6" font-weight="bold" font-size="33.5" textLength="66.5" lengthAdjust="spacingAndGlyphs" fill="#fff" stroke="#fff" stroke-width="1.2" stroke-linejoin="round" filter="url(#wo)">C<tspan font-size="25.5">lassic</tspan></text><text x="23.2" y="37.9" font-size="6.3" font-weight="bold" letter-spacing="4" textLength="112.5" lengthAdjust="spacingAndGlyphs" fill="#fbec98" stroke="#fbec98" stroke-width="0.7">INDUSTRIES</text><text x="139.8" y="42.3" font-size="5.5" fill="#cfcfcf">®</text><rect x="84.3" y="45.6" width="69.2" height="9.2" fill="#d5d5d5"/><text x="87.6" y="52.9" font-size="7.2" font-weight="bold" textLength="61.6" lengthAdjust="spacingAndGlyphs" fill="#fff">Parts &amp; Accessories</text></g>
<g transform="translate(67.1 166.5)"><rect x="70" y="22" width="46" height="8" fill="#fdf8e0"/><rect x="39" y="41" width="71" height="7" fill="#fdf8e0"/><rect x="18.9" y="28.5" width="117.1" height="13.9" fill="#c9e0f2"/><text class="cl" x="1.8" y="24.6" font-weight="bold" font-size="33.5" textLength="66.5" lengthAdjust="spacingAndGlyphs" fill="#fff" stroke="#fff" stroke-width="1.2" stroke-linejoin="round" filter="url(#wo)">C<tspan font-size="25.5">lassic</tspan></text><text x="23.2" y="37.9" font-size="6.3" font-weight="bold" letter-spacing="4" textLength="112.5" lengthAdjust="spacingAndGlyphs" fill="#fbec98" stroke="#fbec98" stroke-width="0.7">INDUSTRIES</text><text x="139.8" y="42.3" font-size="5.5" fill="#cfcfcf">®</text><rect x="84.3" y="45.6" width="69.2" height="9.2" fill="#d5d5d5"/><text x="87.6" y="52.9" font-size="7.2" font-weight="bold" textLength="61.6" lengthAdjust="spacingAndGlyphs" fill="#fff">Parts &amp; Accessories</text></g>
<g transform="translate(-89.3 197.8)"><rect x="70" y="22" width="46" height="8" fill="#fdf8e0"/><rect x="39" y="41" width="71" height="7" fill="#fdf8e0"/><rect x="18.9" y="28.5" width="117.1" height="13.9" fill="#c9e0f2"/><text class="cl" x="1.8" y="24.6" font-weight="bold" font-size="33.5" textLength="66.5" lengthAdjust="spacingAndGlyphs" fill="#fff" stroke="#fff" stroke-width="1.2" stroke-linejoin="round" filter="url(#wo)">C<tspan font-size="25.5">lassic</tspan></text><text x="23.2" y="37.9" font-size="6.3" font-weight="bold" letter-spacing="4" textLength="112.5" lengthAdjust="spacingAndGlyphs" fill="#fbec98" stroke="#fbec98" stroke-width="0.7">INDUSTRIES</text><text x="139.8" y="42.3" font-size="5.5" fill="#cfcfcf">®</text><rect x="84.3" y="45.6" width="69.2" height="9.2" fill="#d5d5d5"/><text x="87.6" y="52.9" font-size="7.2" font-weight="bold" textLength="61.6" lengthAdjust="spacingAndGlyphs" fill="#fff">Parts &amp; Accessories</text></g>
<g transform="translate(411.4 197.9)"><rect x="70" y="22" width="46" height="8" fill="#fdf8e0"/><rect x="39" y="41" width="71" height="7" fill="#fdf8e0"/><rect x="18.9" y="28.5" width="117.1" height="13.9" fill="#c9e0f2"/><text class="cl" x="1.8" y="24.6" font-weight="bold" font-size="33.5" textLength="66.5" lengthAdjust="spacingAndGlyphs" fill="#fff" stroke="#fff" stroke-width="1.2" stroke-linejoin="round" filter="url(#wo)">C<tspan font-size="25.5">lassic</tspan></text><text x="23.2" y="37.9" font-size="6.3" font-weight="bold" letter-spacing="4" textLength="112.5" lengthAdjust="spacingAndGlyphs" fill="#fbec98" stroke="#fbec98" stroke-width="0.7">INDUSTRIES</text><text x="139.8" y="42.3" font-size="5.5" fill="#cfcfcf">®</text><rect x="84.3" y="45.6" width="69.2" height="9.2" fill="#d5d5d5"/><text x="87.6" y="52.9" font-size="7.2" font-weight="bold" textLength="61.6" lengthAdjust="spacingAndGlyphs" fill="#fff">Parts &amp; Accessories</text></g>
<g transform="translate(255 229.2)"><rect x="70" y="22" width="46" height="8" fill="#fdf8e0"/><rect x="39" y="41" width="71" height="7" fill="#fdf8e0"/><rect x="18.9" y="28.5" width="117.1" height="13.9" fill="#c9e0f2"/><text class="cl" x="1.8" y="24.6" font-weight="bold" font-size="33.5" textLength="66.5" lengthAdjust="spacingAndGlyphs" fill="#fff" stroke="#fff" stroke-width="1.2" stroke-linejoin="round" filter="url(#wo)">C<tspan font-size="25.5">lassic</tspan></text><text x="23.2" y="37.9" font-size="6.3" font-weight="bold" letter-spacing="4" textLength="112.5" lengthAdjust="spacingAndGlyphs" fill="#fbec98" stroke="#fbec98" stroke-width="0.7">INDUSTRIES</text><text x="139.8" y="42.3" font-size="5.5" fill="#cfcfcf">®</text><rect x="84.3" y="45.6" width="69.2" height="9.2" fill="#d5d5d5"/><text x="87.6" y="52.9" font-size="7.2" font-weight="bold" textLength="61.6" lengthAdjust="spacingAndGlyphs" fill="#fff">Parts &amp; Accessories</text></g>
<g transform="translate(98.6 260.5)"><rect x="70" y="22" width="46" height="8" fill="#fdf8e0"/><rect x="39" y="41" width="71" height="7" fill="#fdf8e0"/><rect x="18.9" y="28.5" width="117.1" height="13.9" fill="#c9e0f2"/><text class="cl" x="1.8" y="24.6" font-weight="bold" font-size="33.5" textLength="66.5" lengthAdjust="spacingAndGlyphs" fill="#fff" stroke="#fff" stroke-width="1.2" stroke-linejoin="round" filter="url(#wo)">C<tspan font-size="25.5">lassic</tspan></text><text x="23.2" y="37.9" font-size="6.3" font-weight="bold" letter-spacing="4" textLength="112.5" lengthAdjust="spacingAndGlyphs" fill="#fbec98" stroke="#fbec98" stroke-width="0.7">INDUSTRIES</text><text x="139.8" y="42.3" font-size="5.5" fill="#cfcfcf">®</text><rect x="84.3" y="45.6" width="69.2" height="9.2" fill="#d5d5d5"/><text x="87.6" y="52.9" font-size="7.2" font-weight="bold" textLength="61.6" lengthAdjust="spacingAndGlyphs" fill="#fff">Parts &amp; Accessories</text></g>
<g transform="translate(-57.8 291.8)"><rect x="70" y="22" width="46" height="8" fill="#fdf8e0"/><rect x="39" y="41" width="71" height="7" fill="#fdf8e0"/><rect x="18.9" y="28.5" width="117.1" height="13.9" fill="#c9e0f2"/><text class="cl" x="1.8" y="24.6" font-weight="bold" font-size="33.5" textLength="66.5" lengthAdjust="spacingAndGlyphs" fill="#fff" stroke="#fff" stroke-width="1.2" stroke-linejoin="round" filter="url(#wo)">C<tspan font-size="25.5">lassic</tspan></text><text x="23.2" y="37.9" font-size="6.3" font-weight="bold" letter-spacing="4" textLength="112.5" lengthAdjust="spacingAndGlyphs" fill="#fbec98" stroke="#fbec98" stroke-width="0.7">INDUSTRIES</text><text x="139.8" y="42.3" font-size="5.5" fill="#cfcfcf">®</text><rect x="84.3" y="45.6" width="69.2" height="9.2" fill="#d5d5d5"/><text x="87.6" y="52.9" font-size="7.2" font-weight="bold" textLength="61.6" lengthAdjust="spacingAndGlyphs" fill="#fff">Parts &amp; Accessories</text></g>
<g transform="translate(442.9 291.9)"><rect x="70" y="22" width="46" height="8" fill="#fdf8e0"/><rect x="39" y="41" width="71" height="7" fill="#fdf8e0"/><rect x="18.9" y="28.5" width="117.1" height="13.9" fill="#c9e0f2"/><text class="cl" x="1.8" y="24.6" font-weight="bold" font-size="33.5" textLength="66.5" lengthAdjust="spacingAndGlyphs" fill="#fff" stroke="#fff" stroke-width="1.2" stroke-linejoin="round" filter="url(#wo)">C<tspan font-size="25.5">lassic</tspan></text><text x="23.2" y="37.9" font-size="6.3" font-weight="bold" letter-spacing="4" textLength="112.5" lengthAdjust="spacingAndGlyphs" fill="#fbec98" stroke="#fbec98" stroke-width="0.7">INDUSTRIES</text><text x="139.8" y="42.3" font-size="5.5" fill="#cfcfcf">®</text><rect x="84.3" y="45.6" width="69.2" height="9.2" fill="#d5d5d5"/><text x="87.6" y="52.9" font-size="7.2" font-weight="bold" textLength="61.6" lengthAdjust="spacingAndGlyphs" fill="#fff">Parts &amp; Accessories</text></g>
<g transform="translate(286.5 323.2)"><rect x="70" y="22" width="46" height="8" fill="#fdf8e0"/><rect x="39" y="41" width="71" height="7" fill="#fdf8e0"/><rect x="18.9" y="28.5" width="117.1" height="13.9" fill="#c9e0f2"/><text class="cl" x="1.8" y="24.6" font-weight="bold" font-size="33.5" textLength="66.5" lengthAdjust="spacingAndGlyphs" fill="#fff" stroke="#fff" stroke-width="1.2" stroke-linejoin="round" filter="url(#wo)">C<tspan font-size="25.5">lassic</tspan></text><text x="23.2" y="37.9" font-size="6.3" font-weight="bold" letter-spacing="4" textLength="112.5" lengthAdjust="spacingAndGlyphs" fill="#fbec98" stroke="#fbec98" stroke-width="0.7">INDUSTRIES</text><text x="139.8" y="42.3" font-size="5.5" fill="#cfcfcf">®</text><rect x="84.3" y="45.6" width="69.2" height="9.2" fill="#d5d5d5"/><text x="87.6" y="52.9" font-size="7.2" font-weight="bold" textLength="61.6" lengthAdjust="spacingAndGlyphs" fill="#fff">Parts &amp; Accessories</text></g>
<g transform="translate(130.1 354.5)"><rect x="70" y="22" width="46" height="8" fill="#fdf8e0"/><rect x="39" y="41" width="71" height="7" fill="#fdf8e0"/><rect x="18.9" y="28.5" width="117.1" height="13.9" fill="#c9e0f2"/><text class="cl" x="1.8" y="24.6" font-weight="bold" font-size="33.5" textLength="66.5" lengthAdjust="spacingAndGlyphs" fill="#fff" stroke="#fff" stroke-width="1.2" stroke-linejoin="round" filter="url(#wo)">C<tspan font-size="25.5">lassic</tspan></text><text x="23.2" y="37.9" font-size="6.3" font-weight="bold" letter-spacing="4" textLength="112.5" lengthAdjust="spacingAndGlyphs" fill="#fbec98" stroke="#fbec98" stroke-width="0.7">INDUSTRIES</text><text x="139.8" y="42.3" font-size="5.5" fill="#cfcfcf">®</text><rect x="84.3" y="45.6" width="69.2" height="9.2" fill="#d5d5d5"/><text x="87.6" y="52.9" font-size="7.2" font-weight="bold" textLength="61.6" lengthAdjust="spacingAndGlyphs" fill="#fff">Parts &amp; Accessories</text></g>
<g transform="translate(-26.3 385.8)"><rect x="70" y="22" width="46" height="8" fill="#fdf8e0"/><rect x="39" y="41" width="71" height="7" fill="#fdf8e0"/><rect x="18.9" y="28.5" width="117.1" height="13.9" fill="#c9e0f2"/><text class="cl" x="1.8" y="24.6" font-weight="bold" font-size="33.5" textLength="66.5" lengthAdjust="spacingAndGlyphs" fill="#fff" stroke="#fff" stroke-width="1.2" stroke-linejoin="round" filter="url(#wo)">C<tspan font-size="25.5">lassic</tspan></text><text x="23.2" y="37.9" font-size="6.3" font-weight="bold" letter-spacing="4" textLength="112.5" lengthAdjust="spacingAndGlyphs" fill="#fbec98" stroke="#fbec98" stroke-width="0.7">INDUSTRIES</text><text x="139.8" y="42.3" font-size="5.5" fill="#cfcfcf">®</text><rect x="84.3" y="45.6" width="69.2" height="9.2" fill="#d5d5d5"/><text x="87.6" y="52.9" font-size="7.2" font-weight="bold" textLength="61.6" lengthAdjust="spacingAndGlyphs" fill="#fff">Parts &amp; Accessories</text></g>
<g transform="translate(474.4 385.9)"><rect x="70" y="22" width="46" height="8" fill="#fdf8e0"/><rect x="39" y="41" width="71" height="7" fill="#fdf8e0"/><rect x="18.9" y="28.5" width="117.1" height="13.9" fill="#c9e0f2"/><text class="cl" x="1.8" y="24.6" font-weight="bold" font-size="33.5" textLength="66.5" lengthAdjust="spacingAndGlyphs" fill="#fff" stroke="#fff" stroke-width="1.2" stroke-linejoin="round" filter="url(#wo)">C<tspan font-size="25.5">lassic</tspan></text><text x="23.2" y="37.9" font-size="6.3" font-weight="bold" letter-spacing="4" textLength="112.5" lengthAdjust="spacingAndGlyphs" fill="#fbec98" stroke="#fbec98" stroke-width="0.7">INDUSTRIES</text><text x="139.8" y="42.3" font-size="5.5" fill="#cfcfcf">®</text><rect x="84.3" y="45.6" width="69.2" height="9.2" fill="#d5d5d5"/><text x="87.6" y="52.9" font-size="7.2" font-weight="bold" textLength="61.6" lengthAdjust="spacingAndGlyphs" fill="#fff">Parts &amp; Accessories</text></g>
<g transform="translate(318 417.2)"><rect x="70" y="22" width="46" height="8" fill="#fdf8e0"/><rect x="39" y="41" width="71" height="7" fill="#fdf8e0"/><rect x="18.9" y="28.5" width="117.1" height="13.9" fill="#c9e0f2"/><text class="cl" x="1.8" y="24.6" font-weight="bold" font-size="33.5" textLength="66.5" lengthAdjust="spacingAndGlyphs" fill="#fff" stroke="#fff" stroke-width="1.2" stroke-linejoin="round" filter="url(#wo)">C<tspan font-size="25.5">lassic</tspan></text><text x="23.2" y="37.9" font-size="6.3" font-weight="bold" letter-spacing="4" textLength="112.5" lengthAdjust="spacingAndGlyphs" fill="#fbec98" stroke="#fbec98" stroke-width="0.7">INDUSTRIES</text><text x="139.8" y="42.3" font-size="5.5" fill="#cfcfcf">®</text><rect x="84.3" y="45.6" width="69.2" height="9.2" fill="#d5d5d5"/><text x="87.6" y="52.9" font-size="7.2" font-weight="bold" textLength="61.6" lengthAdjust="spacingAndGlyphs" fill="#fff">Parts &amp; Accessories</text></g>
<g transform="translate(161.6 448.5)"><rect x="70" y="22" width="46" height="8" fill="#fdf8e0"/><rect x="39" y="41" width="71" height="7" fill="#fdf8e0"/><rect x="18.9" y="28.5" width="117.1" height="13.9" fill="#c9e0f2"/><text class="cl" x="1.8" y="24.6" font-weight="bold" font-size="33.5" textLength="66.5" lengthAdjust="spacingAndGlyphs" fill="#fff" stroke="#fff" stroke-width="1.2" stroke-linejoin="round" filter="url(#wo)">C<tspan font-size="25.5">lassic</tspan></text><text x="23.2" y="37.9" font-size="6.3" font-weight="bold" letter-spacing="4" textLength="112.5" lengthAdjust="spacingAndGlyphs" fill="#fbec98" stroke="#fbec98" stroke-width="0.7">INDUSTRIES</text><text x="139.8" y="42.3" font-size="5.5" fill="#cfcfcf">®</text><rect x="84.3" y="45.6" width="69.2" height="9.2" fill="#d5d5d5"/><text x="87.6" y="52.9" font-size="7.2" font-weight="bold" textLength="61.6" lengthAdjust="spacingAndGlyphs" fill="#fff">Parts &amp; Accessories</text></g>
<g transform="translate(5.2 479.8)"><rect x="70" y="22" width="46" height="8" fill="#fdf8e0"/><rect x="39" y="41" width="71" height="7" fill="#fdf8e0"/><rect x="18.9" y="28.5" width="117.1" height="13.9" fill="#c9e0f2"/><text class="cl" x="1.8" y="24.6" font-weight="bold" font-size="33.5" textLength="66.5" lengthAdjust="spacingAndGlyphs" fill="#fff" stroke="#fff" stroke-width="1.2" stroke-linejoin="round" filter="url(#wo)">C<tspan font-size="25.5">lassic</tspan></text><text x="23.2" y="37.9" font-size="6.3" font-weight="bold" letter-spacing="4" textLength="112.5" lengthAdjust="spacingAndGlyphs" fill="#fbec98" stroke="#fbec98" stroke-width="0.7">INDUSTRIES</text><text x="139.8" y="42.3" font-size="5.5" fill="#cfcfcf">®</text><rect x="84.3" y="45.6" width="69.2" height="9.2" fill="#d5d5d5"/><text x="87.6" y="52.9" font-size="7.2" font-weight="bold" textLength="61.6" lengthAdjust="spacingAndGlyphs" fill="#fff">Parts &amp; Accessories</text></g>
<g transform="translate(-151.2 511.1)"><rect x="70" y="22" width="46" height="8" fill="#fdf8e0"/><rect x="39" y="41" width="71" height="7" fill="#fdf8e0"/><rect x="18.9" y="28.5" width="117.1" height="13.9" fill="#c9e0f2"/><text class="cl" x="1.8" y="24.6" font-weight="bold" font-size="33.5" textLength="66.5" lengthAdjust="spacingAndGlyphs" fill="#fff" stroke="#fff" stroke-width="1.2" stroke-linejoin="round" filter="url(#wo)">C<tspan font-size="25.5">lassic</tspan></text><text x="23.2" y="37.9" font-size="6.3" font-weight="bold" letter-spacing="4" textLength="112.5" lengthAdjust="spacingAndGlyphs" fill="#fbec98" stroke="#fbec98" stroke-width="0.7">INDUSTRIES</text><text x="139.8" y="42.3" font-size="5.5" fill="#cfcfcf">®</text><rect x="84.3" y="45.6" width="69.2" height="9.2" fill="#d5d5d5"/><text x="87.6" y="52.9" font-size="7.2" font-weight="bold" textLength="61.6" lengthAdjust="spacingAndGlyphs" fill="#fff">Parts &amp; Accessories</text></g>
<g transform="translate(349.5 511.2)"><rect x="70" y="22" width="46" height="8" fill="#fdf8e0"/><rect x="39" y="41" width="71" height="7" fill="#fdf8e0"/><rect x="18.9" y="28.5" width="117.1" height="13.9" fill="#c9e0f2"/><text class="cl" x="1.8" y="24.6" font-weight="bold" font-size="33.5" textLength="66.5" lengthAdjust="spacingAndGlyphs" fill="#fff" stroke="#fff" stroke-width="1.2" stroke-linejoin="round" filter="url(#wo)">C<tspan font-size="25.5">lassic</tspan></text><text x="23.2" y="37.9" font-size="6.3" font-weight="bold" letter-spacing="4" textLength="112.5" lengthAdjust="spacingAndGlyphs" fill="#fbec98" stroke="#fbec98" stroke-width="0.7">INDUSTRIES</text><text x="139.8" y="42.3" font-size="5.5" fill="#cfcfcf">®</text><rect x="84.3" y="45.6" width="69.2" height="9.2" fill="#d5d5d5"/><text x="87.6" y="52.9" font-size="7.2" font-weight="bold" textLength="61.6" lengthAdjust="spacingAndGlyphs" fill="#fff">Parts &amp; Accessories</text></g>
<g transform="translate(193.1 542.5)"><rect x="70" y="22" width="46" height="8" fill="#fdf8e0"/><rect x="39" y="41" width="71" height="7" fill="#fdf8e0"/><rect x="18.9" y="28.5" width="117.1" height="13.9" fill="#c9e0f2"/><text class="cl" x="1.8" y="24.6" font-weight="bold" font-size="33.5" textLength="66.5" lengthAdjust="spacingAndGlyphs" fill="#fff" stroke="#fff" stroke-width="1.2" stroke-linejoin="round" filter="url(#wo)">C<tspan font-size="25.5">lassic</tspan></text><text x="23.2" y="37.9" font-size="6.3" font-weight="bold" letter-spacing="4" textLength="112.5" lengthAdjust="spacingAndGlyphs" fill="#fbec98" stroke="#fbec98" stroke-width="0.7">INDUSTRIES</text><text x="139.8" y="42.3" font-size="5.5" fill="#cfcfcf">®</text><rect x="84.3" y="45.6" width="69.2" height="9.2" fill="#d5d5d5"/><text x="87.6" y="52.9" font-size="7.2" font-weight="bold" textLength="61.6" lengthAdjust="spacingAndGlyphs" fill="#fff">Parts &amp; Accessories</text></g>
</svg>
<g transform="translate(0 0)">
<path d="M172.1 57.3C173.1 57.6 176.5 58.2 178.5 58.9C180.5 59.6 182.5 60.6 184.2 61.7C185.9 62.9 187.5 64.3 188.7 65.8C189.9 67.3 190.8 68.9 191.5 70.6C192.2 72.3 192.1 74.6 192.7 76C193.3 77.4 193.3 78.3 194.9 78.8C196.5 79.3 198.9 79.2 202 79.2C205.1 79.2 210.4 78.6 213.4 78.9C216.4 79.2 217.2 79.7 219.9 80.8C222.6 81.9 226.6 84 229.6 85.6C232.6 87.2 235.3 88.5 238.1 90.2C240.9 91.9 243.5 93.9 246.2 95.8C248.9 97.7 251.6 99.9 254.3 101.5C257 103.1 259.7 104.7 262.4 105.6C265.1 106.5 266.4 106.6 270.5 106.8C274.6 107 282 107 286.7 106.8C291.4 106.6 295.8 106.6 298.9 105.8C302 105 303.6 104 305.4 102C307.2 100 308.4 97 309.6 94C310.8 91 311.5 86.5 312.4 83.9C313.3 81.3 313.9 79.9 314.9 78.6C315.9 77.3 316.4 76.8 318.5 76.2C320.6 75.6 323.5 75.3 327.4 75C331.3 74.7 338.8 74.8 342 74.2C345.2 73.6 345.4 72.5 346.9 71.3C348.4 70.1 349.5 68.5 350.9 66.9C352.2 65.3 353.6 63.8 355 61.6C356.4 59.5 358.1 56.7 359.6 54C361.1 51.3 363.2 47 363.9 45.6L364.9 512.4C364.7 513 364.4 515.3 363.5 516.1C362.6 516.9 361.2 517.7 359.8 517.4C358.4 517.1 356.5 515.8 355 514.4C353.5 513 352.1 511.1 350.9 509.2C349.7 507.2 348.8 504.7 347.7 502.7C346.6 500.7 345.6 498.5 344.4 497.4C343.2 496.2 343.8 496.1 340.4 495.8C337 495.5 327.8 496.1 324.2 495.8C320.6 495.5 320 495.1 318.5 494.2C317 493.3 316.2 492.1 315.2 490.2C314.1 488.3 313.2 485.5 312.2 483C311.2 480.5 310.4 477.4 309.4 475.1C308.4 472.8 307.4 470.7 306.2 469.4C305 468.1 304.9 467.7 302.2 467.4C299.5 467.1 295.1 467.4 290 467.4C284.9 467.4 276.1 467.3 271.7 467.4C267.3 467.4 265.8 467.4 263.6 467.7C261.5 468 260.8 468 258.8 469C256.8 470 254.1 471.8 251.5 473.5C248.9 475.2 246.1 477.2 243.4 479.2C240.7 481.2 238 483.6 235.3 485.7C232.6 487.8 229.6 490.2 227.2 491.6C224.8 493 223 493.3 220.7 493.9C218.4 494.5 216.1 494.6 213.4 495.1C210.7 495.7 207.3 496.4 204.5 497.2C201.7 498 198.6 498.9 196.4 500C194.2 501.1 193.1 501.9 191.5 503.6C189.9 505.3 188.5 507.5 186.6 510.1C184.7 512.7 182.3 516.1 180.2 519C178.1 521.9 175.1 526.1 174.1 527.5L172.1 57.3Z" fill="#1276c4"/>
<path d="M172.1 57.3C173.1 57.6 176.5 58.2 178.5 58.9C180.5 59.6 182.5 60.6 184.2 61.7C185.9 62.9 187.5 64.3 188.7 65.8C189.9 67.3 190.8 68.9 191.5 70.6C192.2 72.3 192.1 74.6 192.7 76C193.3 77.4 193.3 78.3 194.9 78.8C196.5 79.3 198.9 79.2 202 79.2C205.1 79.2 210.4 78.6 213.4 78.9C216.4 79.2 217.2 79.7 219.9 80.8C222.6 81.9 226.6 84 229.6 85.6C232.6 87.2 235.3 88.5 238.1 90.2C240.9 91.9 243.5 93.9 246.2 95.8C248.9 97.7 251.6 99.9 254.3 101.5C257 103.1 259.7 104.7 262.4 105.6C265.1 106.5 266.4 106.6 270.5 106.8C274.6 107 282 107 286.7 106.8C291.4 106.6 295.8 106.6 298.9 105.8C302 105 303.6 104 305.4 102C307.2 100 308.4 97 309.6 94C310.8 91 311.5 86.5 312.4 83.9C313.3 81.3 313.9 79.9 314.9 78.6C315.9 77.3 316.4 76.8 318.5 76.2C320.6 75.6 323.5 75.3 327.4 75C331.3 74.7 338.8 74.8 342 74.2C345.2 73.6 345.4 72.5 346.9 71.3C348.4 70.1 349.5 68.5 350.9 66.9C352.2 65.3 353.6 63.8 355 61.6C356.4 59.5 358.1 56.7 359.6 54C361.1 51.3 363.2 47 363.9 45.6L364.9 512.4C364.7 513 364.4 515.3 363.5 516.1C362.6 516.9 361.2 517.7 359.8 517.4C358.4 517.1 356.5 515.8 355 514.4C353.5 513 352.1 511.1 350.9 509.2C349.7 507.2 348.8 504.7 347.7 502.7C346.6 500.7 345.6 498.5 344.4 497.4C343.2 496.2 343.8 496.1 340.4 495.8C337 495.5 327.8 496.1 324.2 495.8C320.6 495.5 320 495.1 318.5 494.2C317 493.3 316.2 492.1 315.2 490.2C314.1 488.3 313.2 485.5 312.2 483C311.2 480.5 310.4 477.4 309.4 475.1C308.4 472.8 307.4 470.7 306.2 469.4C305 468.1 304.9 467.7 302.2 467.4C299.5 467.1 295.1 467.4 290 467.4C284.9 467.4 276.1 467.3 271.7 467.4C267.3 467.4 265.8 467.4 263.6 467.7C261.5 468 260.8 468 258.8 469C256.8 470 254.1 471.8 251.5 473.5C248.9 475.2 246.1 477.2 243.4 479.2C240.7 481.2 238 483.6 235.3 485.7C232.6 487.8 229.6 490.2 227.2 491.6C224.8 493 223 493.3 220.7 493.9C218.4 494.5 216.1 494.6 213.4 495.1C210.7 495.7 207.3 496.4 204.5 497.2C201.7 498 198.6 498.9 196.4 500C194.2 501.1 193.1 501.9 191.5 503.6C189.9 505.3 188.5 507.5 186.6 510.1C184.7 512.7 182.3 516.1 180.2 519C178.1 521.9 175.1 526.1 174.1 527.5L172.1 57.3Z" fill="none" stroke="#0d0909" stroke-width="3.2" stroke-linejoin="miter" stroke-miterlimit="10" clip-path="url(#cOut)"/>
<path d="M357 506.7C356.8 506.2 356.6 505.1 355.8 503.5C355.1 501.9 353.7 499 352.5 497C351.3 495 350 492.7 348.5 491.3C347 489.9 347.2 489 343.6 488.5C340 488 330.5 488.4 327 488.2C323.5 488 323.9 488 322.8 487.1C321.7 486.2 320.9 485 320.2 483C319.5 481 319.2 477.7 318.4 475.1C317.5 472.5 316.3 469.5 315.1 467.4C313.9 465.2 312.5 463.5 311.1 462.2C309.7 460.9 310 460.1 306.5 459.7C303 459.3 296.1 459.7 290 459.7C283.9 459.7 274.8 459.7 270.1 459.7C265.4 459.7 264.4 459.6 262 459.9C259.6 460.2 257.9 460.3 255.5 461.3C253.1 462.3 250.1 464 247.4 465.8C244.7 467.6 242.3 469.5 239.3 471.9C236.3 474.3 232.4 477.9 229.6 480C226.8 482.1 225.2 483.2 222.5 484.4C219.8 485.6 216.4 486.3 213.4 487C210.4 487.7 207.5 487.9 204.5 488.6C201.5 489.3 198.2 490.1 195.6 491.1C193 492.1 191 493.3 189.1 494.7C187.2 496.1 185.5 498.1 184.2 499.6C182.9 501.1 181.9 502.9 181.4 503.6L179.8 68.2C180.3 69 182.2 71.3 183 73.1C183.8 74.8 184 77 184.6 78.7C185.2 80.4 185.4 81.9 186.6 83.2C187.8 84.5 189.2 85.7 191.5 86.4C193.8 87.2 197.3 87.5 200.4 87.7C203.5 87.9 207.1 87.2 210.1 87.4C213.1 87.6 215.2 87.8 218.2 88.9C221.2 90.1 224.7 92.5 228 94.3C231.3 96.1 235.1 98 238.1 99.9C241.1 101.8 243.5 103.8 246.2 105.6C248.9 107.3 251.6 109.1 254.3 110.4C257 111.7 259.7 112.7 262.4 113.3C265.1 113.9 266.4 113.9 270.5 114.1C274.6 114.3 282 114.6 286.7 114.5C291.4 114.4 295.4 114.2 298.9 113.7C302.4 113.2 305.6 112.4 307.8 111.2C310.1 110 311.1 108.8 312.4 106.5C313.6 104.2 314.4 100.5 315.3 97.7C316.2 94.9 317.2 91.8 318.1 89.6C319 87.4 319.6 85.8 320.5 84.7C321.4 83.6 321.2 83.1 323.4 82.7C325.6 82.3 330.4 82.2 333.9 82.1C337.4 82 341.7 82.5 344.4 81.9C347.1 81.3 348.5 79.7 350.1 78.6C351.7 77.5 353.2 76.5 354.2 75.2C355.1 73.9 355.5 71.7 355.8 71" fill="none" stroke="#0d0909" stroke-width="3.2" stroke-linejoin="miter" stroke-miterlimit="3"/>
<path d="M179.8 68.2C180.3 69 182.2 71.3 183 73.1C183.8 74.8 184 77 184.6 78.7C185.2 80.4 185.4 81.9 186.6 83.2C187.8 84.5 189.2 85.7 191.5 86.4C193.8 87.2 197.3 87.5 200.4 87.7C203.5 87.9 207.1 87.2 210.1 87.4C213.1 87.6 215.2 87.8 218.2 88.9C221.2 90.1 224.7 92.5 228 94.3C231.3 96.1 235.1 98 238.1 99.9C241.1 101.8 243.5 103.8 246.2 105.6C248.9 107.3 251.6 109.1 254.3 110.4C257 111.7 259.7 112.7 262.4 113.3C265.1 113.9 266.4 113.9 270.5 114.1C274.6 114.3 282 114.6 286.7 114.5C291.4 114.4 295.4 114.2 298.9 113.7C302.4 113.2 305.6 112.4 307.8 111.2C310.1 110 311.1 108.8 312.4 106.5C313.6 104.2 314.4 100.5 315.3 97.7C316.2 94.9 317.2 91.8 318.1 89.6C319 87.4 319.6 85.8 320.5 84.7C321.4 83.6 321.2 83.1 323.4 82.7C325.6 82.3 330.4 82.2 333.9 82.1C337.4 82 341.7 82.5 344.4 81.9C347.1 81.3 348.5 79.7 350.1 78.6C351.7 77.5 353.2 76.5 354.2 75.2C355.1 73.9 355.5 71.7 355.8 71L357 506.7C356.8 506.2 356.6 505.1 355.8 503.5C355.1 501.9 353.7 499 352.5 497C351.3 495 350 492.7 348.5 491.3C347 489.9 347.2 489 343.6 488.5C340 488 330.5 488.4 327 488.2C323.5 488 323.9 488 322.8 487.1C321.7 486.2 320.9 485 320.2 483C319.5 481 319.2 477.7 318.4 475.1C317.5 472.5 316.3 469.5 315.1 467.4C313.9 465.2 312.5 463.5 311.1 462.2C309.7 460.9 310 460.1 306.5 459.7C303 459.3 296.1 459.7 290 459.7C283.9 459.7 274.8 459.7 270.1 459.7C265.4 459.7 264.4 459.6 262 459.9C259.6 460.2 257.9 460.3 255.5 461.3C253.1 462.3 250.1 464 247.4 465.8C244.7 467.6 242.3 469.5 239.3 471.9C236.3 474.3 232.4 477.9 229.6 480C226.8 482.1 225.2 483.2 222.5 484.4C219.8 485.6 216.4 486.3 213.4 487C210.4 487.7 207.5 487.9 204.5 488.6C201.5 489.3 198.2 490.1 195.6 491.1C193 492.1 191 493.3 189.1 494.7C187.2 496.1 185.5 498.1 184.2 499.6C182.9 501.1 181.9 502.9 181.4 503.6L179.8 68.2Z" fill="#b6b6b6"/>
<rect x="170" y="50" width="117.5" height="480" fill="#d66c6e" clip-path="url(#cCav)"/>
<path d="M355.6 73 L356.8 503" fill="none" stroke="#d5d9dc" stroke-width="0.8"/>
<rect x="289" y="237" width="4.8" height="99" fill="#d4d4d6"/>
<rect x="289" y="196" width="5" height="9.5" fill="#d4d4d6"/>
<rect x="289" y="367" width="5" height="9" fill="#d4d4d6"/>
<path d="M271.3 115.1 L308.3 115.1 Q310.2 115.2 310.9 117.2 L315.1 131.5 L312.2 142 L310.2 150 L308.2 159.7 L301.7 183.2 L302.5 195 L304 206 L295.3 206 L294.4 195 L293.2 183.2 L297.7 166.2 L301.7 150 L304.1 142 L307 130.7 L304.1 123 L271.3 123 Z" fill="#1276c4"/>
<path d="M271.3 115.1 L308.3 115.1 Q310.2 115.2 310.9 117.2 L315.1 131.5 L312.2 142 L310.2 150 L308.2 159.7 L301.7 183.2 L302.5 195 L304 206 L295.3 206 L294.4 195 L293.2 183.2 L297.7 166.2 L301.7 150 L304.1 142 L307 130.7 L304.1 123 L271.3 123 Z" fill="none" stroke="#0d0909" stroke-width="2.6" stroke-linejoin="miter" clip-path="url(#cD0)"/>
<path d="M303.3 236.5 C303.3 242 301.3 243 301.3 248 L301.6 325 C301.7 330 303.5 331 303.5 336.5" fill="none" stroke="#0d0909" stroke-width="2.4" transform="translate(0.2 0)"/>
<path d="M295.9 236.5 L302.4 236.5 C302.4 242 300.4 243 300.4 248 L300.7 325 C300.8 330 302.6 331 302.6 336.5 L296.5 336.5 C296.5 331 294.2 330 294.2 325 L293.5 248 C293.5 243 295.9 242 295.9 236.5 Z" fill="#1276c4"/>
<path d="M295.2 366.5C294.9 367.4 294.2 370.1 293.7 372C293.2 373.9 292.4 375.8 292.4 378.2C292.4 380.6 293.1 383.6 293.6 386.3C294.1 389 294.9 391.6 295.6 394.4C296.3 397.2 297 399.4 297.8 403C298.6 406.6 299.6 411.3 300.5 416.2C301.4 421.1 302.8 427.6 303.4 432.4C304 437.2 304.2 442 304.1 445C304 448 303.6 449.3 302.8 450.6C302.1 451.9 300.1 452.6 299.6 453L270.1 453.0L270.1 460.2L306.4 459.9C307 459.2 308.7 457.6 309.8 455.8C310.9 454 312.4 451.7 313.1 449.3C313.9 446.9 314.2 444 314.3 441.2C314.4 438.4 314.4 436.6 313.8 432.4C313.2 428.2 311.6 421.1 310.5 416.2C309.4 411.3 308.2 406.6 307.5 403C306.8 399.4 306.7 397.2 306.1 394.4C305.5 391.6 304.6 389 304 386.3C303.4 383.6 302.4 380.6 302.4 378.2C302.4 375.8 303.2 373.9 303.8 372C304.4 370.1 305.4 367.4 305.7 366.5Z" fill="#0d0909"/>
<path d="M295.9 366.5C295.6 367.4 294.9 370.1 294.4 372C293.9 373.9 293.1 375.8 293.1 378.2C293.1 380.6 293.8 383.6 294.3 386.3C294.8 389 295.6 391.6 296.3 394.4C297 397.2 297.7 399.4 298.5 403C299.3 406.6 300.3 411.3 301.2 416.2C302.1 421.1 303.5 427.6 304.1 432.4C304.7 437.2 304.9 442 304.8 445C304.7 448 304.3 449.1 303.5 450.6C302.7 452.1 300.6 453.4 300 454L270.9 454.2L270.9 458.7L305 458.8C305.7 458.2 308.1 456.6 309 455C309.9 453.4 310.2 451.3 310.5 449C310.8 446.7 310.8 443.8 310.7 441C310.6 438.2 310.7 436.5 310.1 432.4C309.5 428.3 308.3 421.1 307.3 416.2C306.3 411.3 304.9 406.6 304 403C303.1 399.4 302.7 397.2 302 394.4C301.3 391.6 300.2 389 299.6 386.3C299 383.6 298.2 380.6 298.2 378.2C298.2 375.8 299 373.9 299.6 372C300.2 370.1 301.3 367.4 301.6 366.5Z" fill="#1276c4"/>
<rect x="289" y="205.1" width="19.5" height="32" fill="#0d0909"/><rect x="290" y="206.2" width="11.8" height="29.8" fill="#1276c4"/><rect x="302.6" y="206.2" width="4.9" height="29.8" fill="#d4242e"/><rect x="290" y="212.4" width="6.2" height="17.7" fill="#d4242e"/><rect x="296.6" y="213.9" width="3.7" height="15.4" fill="#fff" stroke="#0d0909" stroke-width="0.9"/>
<rect x="289" y="335.9" width="19.5" height="31.4" fill="#0d0909"/><rect x="290" y="337" width="11.8" height="29.2" fill="#1276c4"/><rect x="302.6" y="337" width="4.9" height="29.2" fill="#d4242e"/><rect x="290" y="343.2" width="6.2" height="17.1" fill="#d4242e"/><rect x="296.6" y="344.7" width="3.7" height="14.8" fill="#fff" stroke="#0d0909" stroke-width="0.9"/>
</g>
<g transform="translate(500 0)">
<path d="M172.1 57.3C173.1 57.6 176.5 58.2 178.5 58.9C180.5 59.6 182.5 60.6 184.2 61.7C185.9 62.9 187.5 64.3 188.7 65.8C189.9 67.3 190.8 68.9 191.5 70.6C192.2 72.3 192.1 74.6 192.7 76C193.3 77.4 193.3 78.3 194.9 78.8C196.5 79.3 198.9 79.2 202 79.2C205.1 79.2 210.4 78.6 213.4 78.9C216.4 79.2 217.2 79.7 219.9 80.8C222.6 81.9 226.6 84 229.6 85.6C232.6 87.2 235.3 88.5 238.1 90.2C240.9 91.9 243.5 93.9 246.2 95.8C248.9 97.7 251.6 99.9 254.3 101.5C257 103.1 259.7 104.7 262.4 105.6C265.1 106.5 266.4 106.6 270.5 106.8C274.6 107 282 107 286.7 106.8C291.4 106.6 295.8 106.6 298.9 105.8C302 105 303.6 104 305.4 102C307.2 100 308.4 97 309.6 94C310.8 91 311.5 86.5 312.4 83.9C313.3 81.3 313.9 79.9 314.9 78.6C315.9 77.3 316.4 76.8 318.5 76.2C320.6 75.6 323.5 75.3 327.4 75C331.3 74.7 338.8 74.8 342 74.2C345.2 73.6 345.4 72.5 346.9 71.3C348.4 70.1 349.5 68.5 350.9 66.9C352.2 65.3 353.6 63.8 355 61.6C356.4 59.5 358.1 56.7 359.6 54C361.1 51.3 363.2 47 363.9 45.6L364.9 512.4C364.7 513 364.4 515.3 363.5 516.1C362.6 516.9 361.2 517.7 359.8 517.4C358.4 517.1 356.5 515.8 355 514.4C353.5 513 352.1 511.1 350.9 509.2C349.7 507.2 348.8 504.7 347.7 502.7C346.6 500.7 345.6 498.5 344.4 497.4C343.2 496.2 343.8 496.1 340.4 495.8C337 495.5 327.8 496.1 324.2 495.8C320.6 495.5 320 495.1 318.5 494.2C317 493.3 316.2 492.1 315.2 490.2C314.1 488.3 313.2 485.5 312.2 483C311.2 480.5 310.4 477.4 309.4 475.1C308.4 472.8 307.4 470.7 306.2 469.4C305 468.1 304.9 467.7 302.2 467.4C299.5 467.1 295.1 467.4 290 467.4C284.9 467.4 276.1 467.3 271.7 467.4C267.3 467.4 265.8 467.4 263.6 467.7C261.5 468 260.8 468 258.8 469C256.8 470 254.1 471.8 251.5 473.5C248.9 475.2 246.1 477.2 243.4 479.2C240.7 481.2 238 483.6 235.3 485.7C232.6 487.8 229.6 490.2 227.2 491.6C224.8 493 223 493.3 220.7 493.9C218.4 494.5 216.1 494.6 213.4 495.1C210.7 495.7 207.3 496.4 204.5 497.2C201.7 498 198.6 498.9 196.4 500C194.2 501.1 193.1 501.9 191.5 503.6C189.9 505.3 188.5 507.5 186.6 510.1C184.7 512.7 182.3 516.1 180.2 519C178.1 521.9 175.1 526.1 174.1 527.5L172.1 57.3Z" fill="#1276c4"/>
<path d="M172.1 57.3C173.1 57.6 176.5 58.2 178.5 58.9C180.5 59.6 182.5 60.6 184.2 61.7C185.9 62.9 187.5 64.3 188.7 65.8C189.9 67.3 190.8 68.9 191.5 70.6C192.2 72.3 192.1 74.6 192.7 76C193.3 77.4 193.3 78.3 194.9 78.8C196.5 79.3 198.9 79.2 202 79.2C205.1 79.2 210.4 78.6 213.4 78.9C216.4 79.2 217.2 79.7 219.9 80.8C222.6 81.9 226.6 84 229.6 85.6C232.6 87.2 235.3 88.5 238.1 90.2C240.9 91.9 243.5 93.9 246.2 95.8C248.9 97.7 251.6 99.9 254.3 101.5C257 103.1 259.7 104.7 262.4 105.6C265.1 106.5 266.4 106.6 270.5 106.8C274.6 107 282 107 286.7 106.8C291.4 106.6 295.8 106.6 298.9 105.8C302 105 303.6 104 305.4 102C307.2 100 308.4 97 309.6 94C310.8 91 311.5 86.5 312.4 83.9C313.3 81.3 313.9 79.9 314.9 78.6C315.9 77.3 316.4 76.8 318.5 76.2C320.6 75.6 323.5 75.3 327.4 75C331.3 74.7 338.8 74.8 342 74.2C345.2 73.6 345.4 72.5 346.9 71.3C348.4 70.1 349.5 68.5 350.9 66.9C352.2 65.3 353.6 63.8 355 61.6C356.4 59.5 358.1 56.7 359.6 54C361.1 51.3 363.2 47 363.9 45.6L364.9 512.4C364.7 513 364.4 515.3 363.5 516.1C362.6 516.9 361.2 517.7 359.8 517.4C358.4 517.1 356.5 515.8 355 514.4C353.5 513 352.1 511.1 350.9 509.2C349.7 507.2 348.8 504.7 347.7 502.7C346.6 500.7 345.6 498.5 344.4 497.4C343.2 496.2 343.8 496.1 340.4 495.8C337 495.5 327.8 496.1 324.2 495.8C320.6 495.5 320 495.1 318.5 494.2C317 493.3 316.2 492.1 315.2 490.2C314.1 488.3 313.2 485.5 312.2 483C311.2 480.5 310.4 477.4 309.4 475.1C308.4 472.8 307.4 470.7 306.2 469.4C305 468.1 304.9 467.7 302.2 467.4C299.5 467.1 295.1 467.4 290 467.4C284.9 467.4 276.1 467.3 271.7 467.4C267.3 467.4 265.8 467.4 263.6 467.7C261.5 468 260.8 468 258.8 469C256.8 470 254.1 471.8 251.5 473.5C248.9 475.2 246.1 477.2 243.4 479.2C240.7 481.2 238 483.6 235.3 485.7C232.6 487.8 229.6 490.2 227.2 491.6C224.8 493 223 493.3 220.7 493.9C218.4 494.5 216.1 494.6 213.4 495.1C210.7 495.7 207.3 496.4 204.5 497.2C201.7 498 198.6 498.9 196.4 500C194.2 501.1 193.1 501.9 191.5 503.6C189.9 505.3 188.5 507.5 186.6 510.1C184.7 512.7 182.3 516.1 180.2 519C178.1 521.9 175.1 526.1 174.1 527.5L172.1 57.3Z" fill="none" stroke="#0d0909" stroke-width="3.2" stroke-linejoin="miter" stroke-miterlimit="10" clip-path="url(#cOut)"/>
<path d="M357 506.7C356.8 506.2 356.6 505.1 355.8 503.5C355.1 501.9 353.7 499 352.5 497C351.3 495 350 492.7 348.5 491.3C347 489.9 347.2 489 343.6 488.5C340 488 330.5 488.4 327 488.2C323.5 488 323.9 488 322.8 487.1C321.7 486.2 320.9 485 320.2 483C319.5 481 319.2 477.7 318.4 475.1C317.5 472.5 316.3 469.5 315.1 467.4C313.9 465.2 312.5 463.5 311.1 462.2C309.7 460.9 310 460.1 306.5 459.7C303 459.3 296.1 459.7 290 459.7C283.9 459.7 274.8 459.7 270.1 459.7C265.4 459.7 264.4 459.6 262 459.9C259.6 460.2 257.9 460.3 255.5 461.3C253.1 462.3 250.1 464 247.4 465.8C244.7 467.6 242.3 469.5 239.3 471.9C236.3 474.3 232.4 477.9 229.6 480C226.8 482.1 225.2 483.2 222.5 484.4C219.8 485.6 216.4 486.3 213.4 487C210.4 487.7 207.5 487.9 204.5 488.6C201.5 489.3 198.2 490.1 195.6 491.1C193 492.1 191 493.3 189.1 494.7C187.2 496.1 185.5 498.1 184.2 499.6C182.9 501.1 181.9 502.9 181.4 503.6L179.8 68.2C180.3 69 182.2 71.3 183 73.1C183.8 74.8 184 77 184.6 78.7C185.2 80.4 185.4 81.9 186.6 83.2C187.8 84.5 189.2 85.7 191.5 86.4C193.8 87.2 197.3 87.5 200.4 87.7C203.5 87.9 207.1 87.2 210.1 87.4C213.1 87.6 215.2 87.8 218.2 88.9C221.2 90.1 224.7 92.5 228 94.3C231.3 96.1 235.1 98 238.1 99.9C241.1 101.8 243.5 103.8 246.2 105.6C248.9 107.3 251.6 109.1 254.3 110.4C257 111.7 259.7 112.7 262.4 113.3C265.1 113.9 266.4 113.9 270.5 114.1C274.6 114.3 282 114.6 286.7 114.5C291.4 114.4 295.4 114.2 298.9 113.7C302.4 113.2 305.6 112.4 307.8 111.2C310.1 110 311.1 108.8 312.4 106.5C313.6 104.2 314.4 100.5 315.3 97.7C316.2 94.9 317.2 91.8 318.1 89.6C319 87.4 319.6 85.8 320.5 84.7C321.4 83.6 321.2 83.1 323.4 82.7C325.6 82.3 330.4 82.2 333.9 82.1C337.4 82 341.7 82.5 344.4 81.9C347.1 81.3 348.5 79.7 350.1 78.6C351.7 77.5 353.2 76.5 354.2 75.2C355.1 73.9 355.5 71.7 355.8 71" fill="none" stroke="#0d0909" stroke-width="3.2" stroke-linejoin="miter" stroke-miterlimit="3"/>
<path d="M179.8 68.2C180.3 69 182.2 71.3 183 73.1C183.8 74.8 184 77 184.6 78.7C185.2 80.4 185.4 81.9 186.6 83.2C187.8 84.5 189.2 85.7 191.5 86.4C193.8 87.2 197.3 87.5 200.4 87.7C203.5 87.9 207.1 87.2 210.1 87.4C213.1 87.6 215.2 87.8 218.2 88.9C221.2 90.1 224.7 92.5 228 94.3C231.3 96.1 235.1 98 238.1 99.9C241.1 101.8 243.5 103.8 246.2 105.6C248.9 107.3 251.6 109.1 254.3 110.4C257 111.7 259.7 112.7 262.4 113.3C265.1 113.9 266.4 113.9 270.5 114.1C274.6 114.3 282 114.6 286.7 114.5C291.4 114.4 295.4 114.2 298.9 113.7C302.4 113.2 305.6 112.4 307.8 111.2C310.1 110 311.1 108.8 312.4 106.5C313.6 104.2 314.4 100.5 315.3 97.7C316.2 94.9 317.2 91.8 318.1 89.6C319 87.4 319.6 85.8 320.5 84.7C321.4 83.6 321.2 83.1 323.4 82.7C325.6 82.3 330.4 82.2 333.9 82.1C337.4 82 341.7 82.5 344.4 81.9C347.1 81.3 348.5 79.7 350.1 78.6C351.7 77.5 353.2 76.5 354.2 75.2C355.1 73.9 355.5 71.7 355.8 71L357 506.7C356.8 506.2 356.6 505.1 355.8 503.5C355.1 501.9 353.7 499 352.5 497C351.3 495 350 492.7 348.5 491.3C347 489.9 347.2 489 343.6 488.5C340 488 330.5 488.4 327 488.2C323.5 488 323.9 488 322.8 487.1C321.7 486.2 320.9 485 320.2 483C319.5 481 319.2 477.7 318.4 475.1C317.5 472.5 316.3 469.5 315.1 467.4C313.9 465.2 312.5 463.5 311.1 462.2C309.7 460.9 310 460.1 306.5 459.7C303 459.3 296.1 459.7 290 459.7C283.9 459.7 274.8 459.7 270.1 459.7C265.4 459.7 264.4 459.6 262 459.9C259.6 460.2 257.9 460.3 255.5 461.3C253.1 462.3 250.1 464 247.4 465.8C244.7 467.6 242.3 469.5 239.3 471.9C236.3 474.3 232.4 477.9 229.6 480C226.8 482.1 225.2 483.2 222.5 484.4C219.8 485.6 216.4 486.3 213.4 487C210.4 487.7 207.5 487.9 204.5 488.6C201.5 489.3 198.2 490.1 195.6 491.1C193 492.1 191 493.3 189.1 494.7C187.2 496.1 185.5 498.1 184.2 499.6C182.9 501.1 181.9 502.9 181.4 503.6L179.8 68.2Z" fill="#b6b6b6"/>
<rect x="267" y="100" width="20.5" height="354" fill="#d66c6e" clip-path="url(#cCav)"/>
<path d="M355.6 73 L356.8 503" fill="none" stroke="#d5d9dc" stroke-width="0.8"/>
<rect x="289" y="237" width="4.8" height="99" fill="#d4d4d6"/>
<rect x="289" y="196" width="5" height="9.5" fill="#d4d4d6"/>
<rect x="289" y="367" width="5" height="9" fill="#d4d4d6"/>
<path d="M271.3 115.1 L308.3 115.1 Q310.2 115.2 310.9 117.2 L315.1 131.5 L312.2 142 L310.2 150 L308.2 159.7 L301.7 183.2 L302.5 195 L304 206 L295.3 206 L294.4 195 L293.2 183.2 L297.7 166.2 L301.7 150 L304.1 142 L307 130.7 L304.1 123 L271.3 123 Z" fill="#1276c4"/>
<path d="M271.3 115.1 L308.3 115.1 Q310.2 115.2 310.9 117.2 L315.1 131.5 L312.2 142 L310.2 150 L308.2 159.7 L301.7 183.2 L302.5 195 L304 206 L295.3 206 L294.4 195 L293.2 183.2 L297.7 166.2 L301.7 150 L304.1 142 L307 130.7 L304.1 123 L271.3 123 Z" fill="none" stroke="#0d0909" stroke-width="2.6" stroke-linejoin="miter" clip-path="url(#cD0)"/>
<path d="M303.3 236.5 C303.3 242 301.3 243 301.3 248 L301.6 325 C301.7 330 303.5 331 303.5 336.5" fill="none" stroke="#0d0909" stroke-width="2.4" transform="translate(0.2 0)"/>
<path d="M295.9 236.5 L302.4 236.5 C302.4 242 300.4 243 300.4 248 L300.7 325 C300.8 330 302.6 331 302.6 336.5 L296.5 336.5 C296.5 331 294.2 330 294.2 325 L293.5 248 C293.5 243 295.9 242 295.9 236.5 Z" fill="#1276c4"/>
<path d="M295.2 366.5C294.9 367.4 294.2 370.1 293.7 372C293.2 373.9 292.4 375.8 292.4 378.2C292.4 380.6 293.1 383.6 293.6 386.3C294.1 389 294.9 391.6 295.6 394.4C296.3 397.2 297 399.4 297.8 403C298.6 406.6 299.6 411.3 300.5 416.2C301.4 421.1 302.8 427.6 303.4 432.4C304 437.2 304.2 442 304.1 445C304 448 303.6 449.3 302.8 450.6C302.1 451.9 300.1 452.6 299.6 453L270.1 453.0L270.1 460.2L306.4 459.9C307 459.2 308.7 457.6 309.8 455.8C310.9 454 312.4 451.7 313.1 449.3C313.9 446.9 314.2 444 314.3 441.2C314.4 438.4 314.4 436.6 313.8 432.4C313.2 428.2 311.6 421.1 310.5 416.2C309.4 411.3 308.2 406.6 307.5 403C306.8 399.4 306.7 397.2 306.1 394.4C305.5 391.6 304.6 389 304 386.3C303.4 383.6 302.4 380.6 302.4 378.2C302.4 375.8 303.2 373.9 303.8 372C304.4 370.1 305.4 367.4 305.7 366.5Z" fill="#0d0909"/>
<path d="M295.9 366.5C295.6 367.4 294.9 370.1 294.4 372C293.9 373.9 293.1 375.8 293.1 378.2C293.1 380.6 293.8 383.6 294.3 386.3C294.8 389 295.6 391.6 296.3 394.4C297 397.2 297.7 399.4 298.5 403C299.3 406.6 300.3 411.3 301.2 416.2C302.1 421.1 303.5 427.6 304.1 432.4C304.7 437.2 304.9 442 304.8 445C304.7 448 304.3 449.1 303.5 450.6C302.7 452.1 300.6 453.4 300 454L270.9 454.2L270.9 458.7L305 458.8C305.7 458.2 308.1 456.6 309 455C309.9 453.4 310.2 451.3 310.5 449C310.8 446.7 310.8 443.8 310.7 441C310.6 438.2 310.7 436.5 310.1 432.4C309.5 428.3 308.3 421.1 307.3 416.2C306.3 411.3 304.9 406.6 304 403C303.1 399.4 302.7 397.2 302 394.4C301.3 391.6 300.2 389 299.6 386.3C299 383.6 298.2 380.6 298.2 378.2C298.2 375.8 299 373.9 299.6 372C300.2 370.1 301.3 367.4 301.6 366.5Z" fill="#1276c4"/>
<rect x="289" y="205.1" width="19.5" height="32" fill="#0d0909"/><rect x="290" y="206.2" width="11.8" height="29.8" fill="#1276c4"/><rect x="302.6" y="206.2" width="4.9" height="29.8" fill="#d4242e"/><rect x="290" y="212.4" width="6.2" height="17.7" fill="#d4242e"/><rect x="296.6" y="213.9" width="3.7" height="15.4" fill="#fff" stroke="#0d0909" stroke-width="0.9"/>
<rect x="289" y="335.9" width="19.5" height="31.4" fill="#0d0909"/><rect x="290" y="337" width="11.8" height="29.2" fill="#1276c4"/><rect x="302.6" y="337" width="4.9" height="29.2" fill="#d4242e"/><rect x="290" y="343.2" width="6.2" height="17.1" fill="#d4242e"/><rect x="296.6" y="344.7" width="3.7" height="14.8" fill="#fff" stroke="#0d0909" stroke-width="0.9"/>
</g>
<g transform="translate(0 0)">
<path d="M171.6 0V47.6M72 77H164.1M72 497.6H166.8M194.2 529V555M346.6 529V555M277.2 217.7H420.7M277 350H417.8M364.3 60L424.3 38.1M309.9 158.6L440.5 117" stroke="#0d0909" stroke-width="1.8" fill="none"/>
<path d="M287.4 0V534" stroke="#0d0909" stroke-width="3" fill="none"/>
<path d="M267 43.5V66.9M267 76V92.2M267 101.2V123.5M267 134.3V158.6M267 166.8V183M267 191V213.4M267 219.7V243.2M267 250.4V273.4M267 278.6V300.6M267 306V329M267 332.5V356M267 362.6V386.2M267 392.3V415.2M267 421.5V445.4M267 452.5V476.5M267 482.6V505.8M267 510.7V533.9M267 538.1V556" stroke="#0d0909" stroke-width="3" fill="none"/>
<path d="M96 82.9L96 254.2" stroke="#0d0909" stroke-width="1.8" fill="none"/><path d="M96 80L94 84.2L98 84.2Z" fill="#0d0909"/>
<path d="M95.2 490.7L95.2 295.3" stroke="#0d0909" stroke-width="1.8" fill="none"/><path d="M95.2 493.6L93.2 489.4L97.2 489.4Z" fill="#0d0909"/>
<path d="M396.8 223.3L396.8 251.5" stroke="#0d0909" stroke-width="1.8" fill="none"/><path d="M396.8 220.4L394.8 224.6L398.8 224.6Z" fill="#0d0909"/>
<path d="M396.8 344.3L396.8 304" stroke="#0d0909" stroke-width="1.8" fill="none"/><path d="M396.8 347.2L394.8 343L398.8 343Z" fill="#0d0909"/>
<path d="M261.5 523.9L223.4 523.9" stroke="#0d0909" stroke-width="1.5" fill="none"/><path d="M264.2 523.9L260.4 522.2L260.4 525.6Z" fill="#0d0909"/>
<path d="M293.3 523.9L328.2 523.9" stroke="#0d0909" stroke-width="1.5" fill="none"/><path d="M290.6 523.9L294.4 522.2L294.4 525.6Z" fill="#0d0909"/>
</g>
<g transform="translate(500 0)">
<path d="M171.6 0V47.6M72 77H164.1M72 497.6H166.8M194.2 529V555M346.6 529V555M277.2 217.7H420.7M277 350H417.8M364.3 60L424.3 38.1M309.9 158.6L440.5 117" stroke="#0d0909" stroke-width="1.8" fill="none"/>
<path d="M287.4 0V534" stroke="#0d0909" stroke-width="3" fill="none"/>
<path d="M267 43.5V66.9M267 76V92.2M267 101.2V123.5M267 134.3V158.6M267 166.8V183M267 191V213.4M267 219.7V243.2M267 250.4V273.4M267 278.6V300.6M267 306V329M267 332.5V356M267 362.6V386.2M267 392.3V415.2M267 421.5V445.4M267 452.5V476.5M267 482.6V505.8M267 510.7V533.9M267 538.1V556" stroke="#0d0909" stroke-width="3" fill="none"/>
<path d="M96 82.9L96 254.2" stroke="#0d0909" stroke-width="1.8" fill="none"/><path d="M96 80L94 84.2L98 84.2Z" fill="#0d0909"/>
<path d="M95.2 490.7L95.2 295.3" stroke="#0d0909" stroke-width="1.8" fill="none"/><path d="M95.2 493.6L93.2 489.4L97.2 489.4Z" fill="#0d0909"/>
<path d="M396.8 223.3L396.8 251.5" stroke="#0d0909" stroke-width="1.8" fill="none"/><path d="M396.8 220.4L394.8 224.6L398.8 224.6Z" fill="#0d0909"/>
<path d="M396.8 344.3L396.8 304" stroke="#0d0909" stroke-width="1.8" fill="none"/><path d="M396.8 347.2L394.8 343L398.8 343Z" fill="#0d0909"/>
<path d="M261.5 523.9L223.4 523.9" stroke="#0d0909" stroke-width="1.5" fill="none"/><path d="M264.2 523.9L260.4 522.2L260.4 525.6Z" fill="#0d0909"/>
<path d="M293.3 523.9L328.2 523.9" stroke="#0d0909" stroke-width="1.5" fill="none"/><path d="M290.6 523.9L294.4 522.2L294.4 525.6Z" fill="#0d0909"/>
</g>
<g transform="translate(0 0)">
<text x="389.1" y="35.8" font-size="20.6" font-weight="bold" letter-spacing="0.5" textLength="75.7" lengthAdjust="spacingAndGlyphs" fill="#0d0909" stroke="#0d0909" stroke-width="1.6" stroke-linejoin="miter">Flange</text>
<text x="394.6" y="113.8" font-size="21.4" font-weight="bold" letter-spacing="0.5" textLength="81.8" lengthAdjust="spacingAndGlyphs" fill="#0d0909" stroke="#0d0909" stroke-width="1.6" stroke-linejoin="miter">Center</text>
<text x="387.6" y="269.4" font-size="21.2" font-weight="bold" letter-spacing="0.5" textLength="46" lengthAdjust="spacingAndGlyphs" fill="#0d0909" stroke="#0d0909" stroke-width="1.5" stroke-linejoin="miter">Bolt</text>
<text x="387.6" y="299.2" font-size="21.2" font-weight="bold" letter-spacing="0.5" textLength="72.6" lengthAdjust="spacingAndGlyphs" fill="#0d0909" stroke="#0d0909" stroke-width="1.5" stroke-linejoin="miter">Circle</text>
<text x="22.4" y="285.8" font-size="21.2" font-weight="bold" letter-spacing="0.5" textLength="96.7" lengthAdjust="spacingAndGlyphs" fill="#0d0909" stroke="#0d0909" stroke-width="1.5" stroke-linejoin="miter">Rim Dia.</text>
<text x="161.9" y="337.4" font-size="22" font-weight="bold" letter-spacing="0.5" textLength="104.9" lengthAdjust="spacingAndGlyphs" fill="#0d0909" stroke="#0d0909" stroke-width="1.5" stroke-linejoin="miter" transform="rotate(-90 161.9 337.4)">backside</text>
<text x="254.1" y="352.9" font-size="22" font-weight="bold" letter-spacing="0.5" textLength="122.9" lengthAdjust="spacingAndGlyphs" fill="#0d0909" stroke="#0d0909" stroke-width="1.6" stroke-linejoin="miter" transform="rotate(-90 254.1 352.9)">Centerline</text>
<text x="395.4" y="494.4" font-size="22.8" font-weight="bold" letter-spacing="0.5" textLength="115" lengthAdjust="spacingAndGlyphs" fill="#0d0909" stroke="#0d0909" stroke-width="1.5" stroke-linejoin="miter" transform="rotate(-90 395.4 494.4)">Frontside</text>
<text x="233.3" y="540.4" font-size="7.5" font-weight="bold" letter-spacing="0.5" textLength="25.7" lengthAdjust="spacingAndGlyphs" fill="#0d0909" stroke="#0d0909" stroke-width="0.6" stroke-linejoin="miter">Offset</text>
</g>
<g transform="translate(500 0)">
<text x="389.1" y="35.8" font-size="20.6" font-weight="bold" letter-spacing="0.5" textLength="75.7" lengthAdjust="spacingAndGlyphs" fill="#0d0909" stroke="#0d0909" stroke-width="1.6" stroke-linejoin="miter">Flange</text>
<text x="394.6" y="113.8" font-size="21.4" font-weight="bold" letter-spacing="0.5" textLength="81.8" lengthAdjust="spacingAndGlyphs" fill="#0d0909" stroke="#0d0909" stroke-width="1.6" stroke-linejoin="miter">Center</text>
<text x="387.6" y="269.4" font-size="21.2" font-weight="bold" letter-spacing="0.5" textLength="46" lengthAdjust="spacingAndGlyphs" fill="#0d0909" stroke="#0d0909" stroke-width="1.5" stroke-linejoin="miter">Bolt</text>
<text x="387.6" y="299.2" font-size="21.2" font-weight="bold" letter-spacing="0.5" textLength="72.6" lengthAdjust="spacingAndGlyphs" fill="#0d0909" stroke="#0d0909" stroke-width="1.5" stroke-linejoin="miter">Circle</text>
<text x="22.4" y="285.8" font-size="21.2" font-weight="bold" letter-spacing="0.5" textLength="96.7" lengthAdjust="spacingAndGlyphs" fill="#0d0909" stroke="#0d0909" stroke-width="1.5" stroke-linejoin="miter">Rim Dia.</text>
<text x="161.9" y="337.4" font-size="22" font-weight="bold" letter-spacing="0.5" textLength="104.9" lengthAdjust="spacingAndGlyphs" fill="#0d0909" stroke="#0d0909" stroke-width="1.5" stroke-linejoin="miter" transform="rotate(-90 161.9 337.4)">backside</text>
<text x="254.1" y="352.9" font-size="22" font-weight="bold" letter-spacing="0.5" textLength="122.9" lengthAdjust="spacingAndGlyphs" fill="#0d0909" stroke="#0d0909" stroke-width="1.6" stroke-linejoin="miter" transform="rotate(-90 254.1 352.9)">Centerline</text>
<text x="395.4" y="494.4" font-size="22.8" font-weight="bold" letter-spacing="0.5" textLength="115" lengthAdjust="spacingAndGlyphs" fill="#0d0909" stroke="#0d0909" stroke-width="1.5" stroke-linejoin="miter" transform="rotate(-90 395.4 494.4)">Frontside</text>
<text x="233.3" y="540.4" font-size="7.5" font-weight="bold" letter-spacing="0.5" textLength="25.7" lengthAdjust="spacingAndGlyphs" fill="#0d0909" stroke="#0d0909" stroke-width="0.6" stroke-linejoin="miter">Offset</text>
</g>
</svg></body></html>
